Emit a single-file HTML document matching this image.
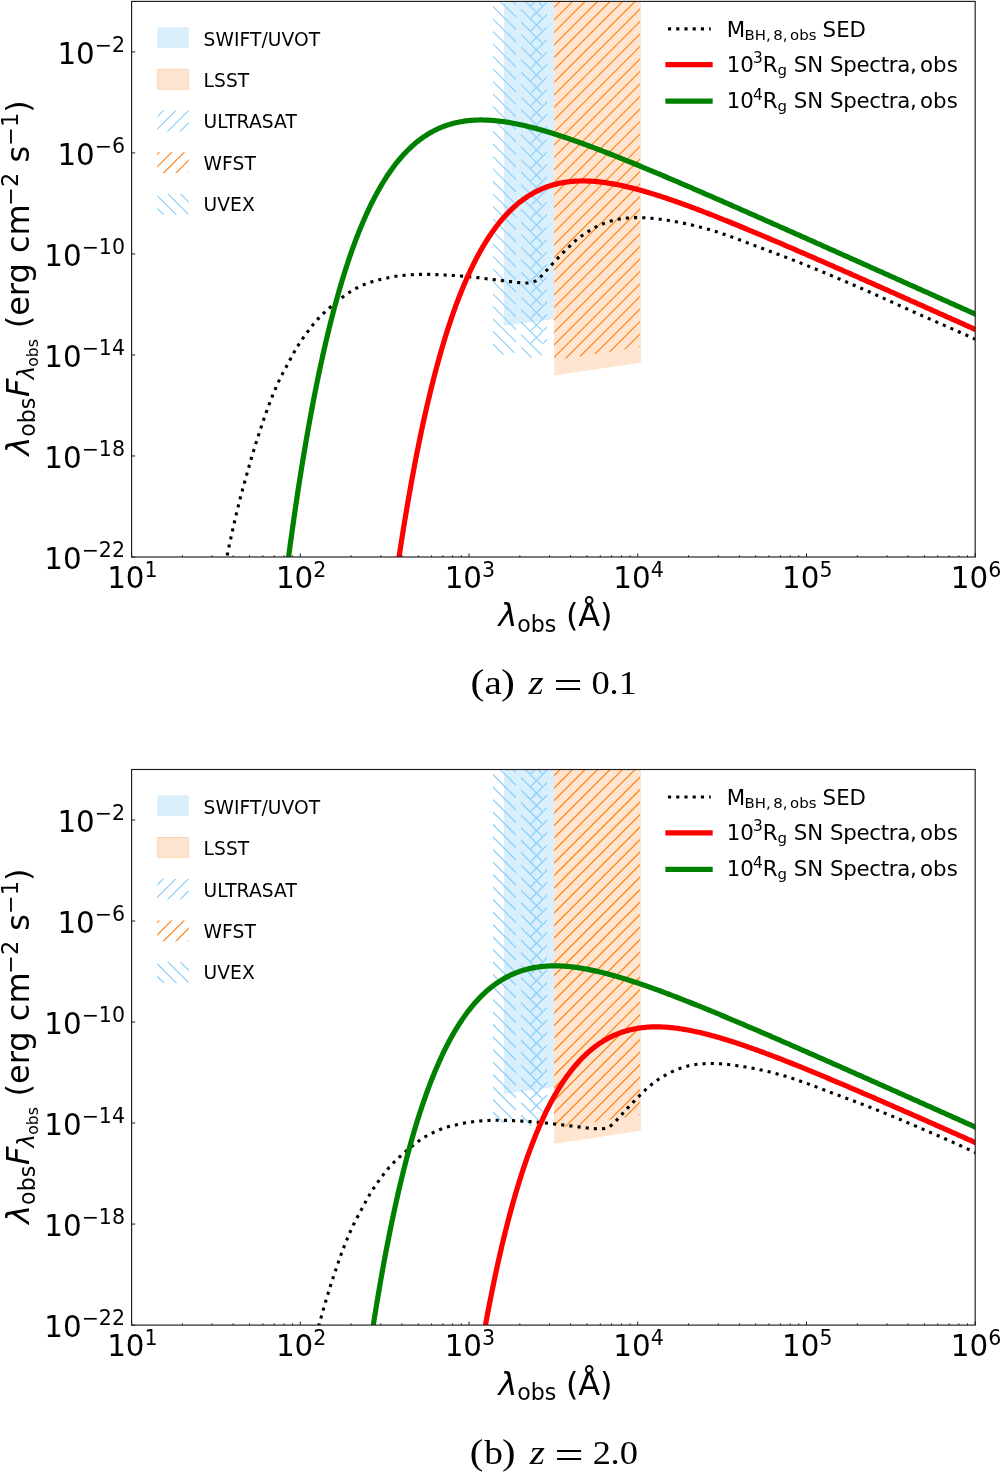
<!DOCTYPE html>
<html><head><meta charset="utf-8"><title>SED figure</title>
<style>
html,body{margin:0;padding:0;background:#fff}
svg{display:block}
text{font-family:"DejaVu Sans","Liberation Sans",sans-serif;fill:#000;white-space:pre}
.cap{font-family:"Liberation Serif","DejaVu Serif",serif}
</style></head><body>
<svg width="1000" height="1472" viewBox="0 0 1000 1472">
<rect width="1000" height="1472" fill="#fff"/>
<g>
<polygon points="504,1.4 554.1,1.4 554.1,319 504,326" fill="#d9effc"/>
<polygon points="554.1,1.4 641,1.4 641,362.7 554.1,375.6" fill="#ffe5cf"/>
<clipPath id="cu1"><polygon points="530.4,1.4 547,1.4 547,343 530.4,345.7"/></clipPath>
<path clip-path="url(#cu1)" d="M529.4 7.1L548 -11.5M529.4 19.6L548 1M529.4 32.1L548 13.5M529.4 44.6L548 26M529.4 57.1L548 38.5M529.4 69.6L548 51M529.4 82.1L548 63.5M529.4 94.6L548 76M529.4 107.1L548 88.5M529.4 119.6L548 101M529.4 132.1L548 113.5M529.4 144.6L548 126M529.4 157.1L548 138.5M529.4 169.6L548 151M529.4 182.1L548 163.5M529.4 194.6L548 176M529.4 207.1L548 188.5M529.4 219.6L548 201M529.4 232.1L548 213.5M529.4 244.6L548 226M529.4 257.1L548 238.5M529.4 269.6L548 251M529.4 282.1L548 263.5M529.4 294.6L548 276M529.4 307.1L548 288.5M529.4 319.6L548 301M529.4 332.1L548 313.5M529.4 344.6L548 326M529.4 357.1L548 338.5" stroke="#87cefa" stroke-width="1.12" fill="none"/>
<clipPath id="cw1"><polygon points="554.1,1.4 639.9,1.4 639.9,347 554.1,360.3"/></clipPath>
<path clip-path="url(#cw1)" d="M553.1 8.4L640.9 -79.4M553.1 20.9L640.9 -66.9M553.1 33.4L640.9 -54.4M553.1 45.9L640.9 -41.9M553.1 58.4L640.9 -29.4M553.1 70.9L640.9 -16.9M553.1 83.4L640.9 -4.4M553.1 95.9L640.9 8.1M553.1 108.4L640.9 20.6M553.1 120.9L640.9 33.1M553.1 133.4L640.9 45.6M553.1 145.9L640.9 58.1M553.1 158.4L640.9 70.6M553.1 170.9L640.9 83.1M553.1 183.4L640.9 95.6M553.1 195.9L640.9 108.1M553.1 208.4L640.9 120.6M553.1 220.9L640.9 133.1M553.1 233.4L640.9 145.6M553.1 245.9L640.9 158.1M553.1 258.4L640.9 170.6M553.1 270.9L640.9 183.1M553.1 283.4L640.9 195.6M553.1 295.9L640.9 208.1M553.1 308.4L640.9 220.6M553.1 320.9L640.9 233.1M553.1 333.4L640.9 245.6M553.1 345.9L640.9 258.1M553.1 358.4L640.9 270.6M553.1 370.9L640.9 283.1M553.1 383.4L640.9 295.6M553.1 395.9L640.9 308.1M553.1 408.4L640.9 320.6M553.1 420.9L640.9 333.1M553.1 433.4L640.9 345.6M553.1 445.9L640.9 358.1" stroke="#ff7f0e" stroke-width="1.12" fill="none"/>
<clipPath id="cv1"><polygon points="493,1.4 516,1.4 516,352.6 493,356.4"/></clipPath>
<path clip-path="url(#cv1)" d="M492 343L517 368M492 330.5L517 355.5M492 318L517 343M492 305.5L517 330.5M492 293L517 318M492 280.5L517 305.5M492 268L517 293M492 255.5L517 280.5M492 243L517 268M492 230.5L517 255.5M492 218L517 243M492 205.5L517 230.5M492 193L517 218M492 180.5L517 205.5M492 168L517 193M492 155.5L517 180.5M492 143L517 168M492 130.5L517 155.5M492 118L517 143M492 105.5L517 130.5M492 93L517 118M492 80.5L517 105.5M492 68L517 93M492 55.5L517 80.5M492 43L517 68M492 30.5L517 55.5M492 18L517 43M492 5.5L517 30.5M492 -7L517 18M492 -19.5L517 5.5" stroke="#87cefa" stroke-width="1.12" fill="none"/>
<clipPath id="cx1"><polygon points="521,1.4 542,1.4 542,355.4 521,359.4"/></clipPath>
<path clip-path="url(#cx1)" d="M520 346L543 369M520 333.5L543 356.5M520 321L543 344M520 308.5L543 331.5M520 296L543 319M520 283.5L543 306.5M520 271L543 294M520 258.5L543 281.5M520 246L543 269M520 233.5L543 256.5M520 221L543 244M520 208.5L543 231.5M520 196L543 219M520 183.5L543 206.5M520 171L543 194M520 158.5L543 181.5M520 146L543 169M520 133.5L543 156.5M520 121L543 144M520 108.5L543 131.5M520 96L543 119M520 83.5L543 106.5M520 71L543 94M520 58.5L543 81.5M520 46L543 69M520 33.5L543 56.5M520 21L543 44M520 8.5L543 31.5M520 -4L543 19M520 -16.5L543 6.5" stroke="#87cefa" stroke-width="1.12" fill="none"/>
<clipPath id="ax1"><rect x="131.6" y="1.4" width="843.6" height="555.6"/></clipPath>
<g clip-path="url(#ax1)" fill="none">
<path d="M216.2 610.6 L216.54 608.89 L216.88 607.18 L217.23 605.47 L217.57 603.76 L217.91 602.05 L218.25 600.34 L218.59 598.63 L218.94 596.92 L219.28 595.21 L219.62 593.5 L219.96 591.79 L220.3 590.08 L220.65 588.37 L220.99 586.66 L221.33 584.95 L221.67 583.24 L222.01 581.53 L222.36 579.82 L222.7 578.11 L223.04 576.4 L223.38 574.69 L223.72 572.98 L224.07 571.27 L224.41 569.56 L224.75 567.85 L225.09 566.14 L225.43 564.43 L225.78 562.72 L226.12 561.01 L226.46 559.3 L226.8 557.59 L227.14 555.88 L227.48 554.17 L227.82 552.46 L228.16 550.75 L228.5 549.04 L228.86 547.33 L229.21 545.62 L229.57 543.92 L229.94 542.21 L230.31 540.51 L230.68 538.8 L231.05 537.1 L231.43 535.4 L231.8 533.7 L232.19 531.99 L232.57 530.29 L232.95 528.59 L233.34 526.89 L233.73 525.19 L234.12 523.49 L234.51 521.79 L234.9 520.09 L235.3 518.39 L235.7 516.7 L236.1 515 L236.5 513.3 L236.91 511.61 L237.32 509.91 L237.73 508.22 L238.14 506.52 L238.56 504.83 L238.99 503.14 L239.41 501.45 L239.85 499.76 L240.28 498.07 L240.73 496.38 L241.17 494.7 L241.62 493.01 L242.08 491.33 L242.54 489.65 L243 487.97 L243.46 486.28 L243.93 484.6 L244.39 482.92 L244.86 481.24 L245.33 479.56 L245.8 477.88 L246.27 476.2 L246.74 474.52 L247.2 472.84 L247.68 471.17 L248.15 469.49 L248.62 467.81 L249.1 466.13 L249.58 464.45 L250.06 462.78 L250.54 461.1 L251.03 459.43 L251.52 457.75 L252.01 456.08 L252.51 454.41 L253.01 452.74 L253.51 451.07 L254.02 449.4 L254.54 447.74 L255.05 446.07 L255.57 444.41 L256.1 442.74 L256.62 441.08 L257.15 439.42 L257.69 437.76 L258.22 436.1 L258.76 434.44 L259.3 432.78 L259.85 431.12 L260.39 429.47 L260.94 427.81 L261.5 426.16 L262.05 424.51 L262.61 422.85 L263.17 421.2 L263.73 419.55 L264.29 417.9 L264.86 416.25 L265.44 414.6 L266.02 412.96 L266.61 411.32 L267.2 409.68 L267.8 408.04 L268.41 406.41 L269.02 404.78 L269.64 403.15 L270.27 401.52 L270.9 399.89 L271.53 398.26 L272.17 396.64 L272.82 395.02 L273.48 393.4 L274.14 391.78 L274.82 390.17 L275.5 388.57 L276.19 386.97 L276.89 385.38 L277.6 383.79 L278.33 382.21 L279.07 380.63 L279.83 379.07 L280.6 377.51 L281.39 375.95 L282.19 374.4 L283 372.86 L283.82 371.31 L284.64 369.77 L285.47 368.24 L286.31 366.7 L287.14 365.17 L287.97 363.63 L288.81 362.1 L289.63 360.57 L290.46 359.03 L291.28 357.49 L292.1 355.95 L292.93 354.41 L293.77 352.88 L294.62 351.35 L295.48 349.84 L296.35 348.33 L297.25 346.84 L298.17 345.37 L299.11 343.9 L300.06 342.44 L301.03 340.99 L302.02 339.55 L303.02 338.11 L304.03 336.69 L305.05 335.27 L306.07 333.86 L307.11 332.46 L308.14 331.06 L309.19 329.66 L310.24 328.26 L311.3 326.87 L312.38 325.49 L313.47 324.13 L314.58 322.78 L315.71 321.46 L316.86 320.16 L318.03 318.88 L319.23 317.62 L320.45 316.37 L321.69 315.15 L322.95 313.93 L324.22 312.73 L325.5 311.54 L326.79 310.36 L328.08 309.19 L329.38 308.02 L330.68 306.86 L331.98 305.7 L333.3 304.56 L334.63 303.42 L335.96 302.29 L337.31 301.18 L338.67 300.09 L340.05 299.02 L341.43 297.97 L342.84 296.94 L344.25 295.91 L345.67 294.89 L347.11 293.88 L348.56 292.9 L350.02 291.94 L351.5 291.01 L352.99 290.12 L354.5 289.27 L356.03 288.46 L357.57 287.66 L359.14 286.88 L360.72 286.12 L362.31 285.38 L363.92 284.67 L365.54 284 L367.16 283.35 L368.8 282.75 L370.44 282.18 L372.09 281.66 L373.75 281.17 L375.43 280.71 L377.11 280.27 L378.81 279.85 L380.52 279.45 L382.22 279.06 L383.93 278.67 L385.64 278.3 L387.34 277.92 L389.05 277.55 L390.75 277.19 L392.46 276.84 L394.18 276.53 L395.9 276.26 L397.63 276.02 L399.36 275.8 L401.09 275.59 L402.83 275.42 L404.56 275.26 L406.3 275.12 L408.04 274.99 L409.78 274.87 L411.52 274.77 L413.26 274.67 L415 274.56 L416.75 274.48 L418.49 274.42 L420.23 274.4 L421.97 274.4 L423.72 274.4 L425.46 274.4 L427.21 274.4 L428.95 274.4 L430.69 274.43 L432.44 274.48 L434.18 274.54 L435.92 274.6 L437.67 274.66 L439.41 274.74 L441.15 274.83 L442.89 274.92 L444.63 275.01 L446.38 275.09 L448.12 275.18 L449.86 275.26 L451.6 275.35 L453.34 275.46 L455.08 275.57 L456.82 275.7 L458.56 275.83 L460.3 275.98 L462.03 276.12 L463.77 276.29 L465.51 276.46 L467.24 276.63 L468.98 276.8 L470.71 276.96 L472.45 277.12 L474.19 277.28 L475.92 277.45 L477.66 277.63 L479.39 277.83 L481.12 278.04 L482.85 278.26 L484.58 278.48 L486.31 278.69 L488.04 278.89 L489.78 279.1 L491.51 279.3 L493.24 279.51 L494.97 279.72 L496.7 279.94 L498.43 280.15 L500.16 280.37 L501.89 280.59 L503.62 280.8 L505.35 281 L507.09 281.21 L508.82 281.41 L510.55 281.62 L512.28 281.85 L514.01 282.09 L515.74 282.31 L517.47 282.51 L519.21 282.64 L520.95 282.76 L522.7 282.87 L524.44 282.95 L526.18 282.99 L527.92 282.97 L529.68 282.75 L531.43 282.37 L533.13 281.89 L534.71 281.36 L536.19 280.61 L537.59 279.56 L538.94 278.36 L540.25 277.1 L541.52 275.91 L542.75 274.67 L543.93 273.39 L545.09 272.08 L546.26 270.77 L547.43 269.49 L548.6 268.19 L549.77 266.9 L550.94 265.6 L552.11 264.31 L553.29 263.03 L554.48 261.75 L555.67 260.48 L556.86 259.2 L558.06 257.94 L559.26 256.67 L560.47 255.42 L561.68 254.16 L562.9 252.91 L564.12 251.67 L565.34 250.43 L566.57 249.19 L567.81 247.96 L569.05 246.74 L570.31 245.52 L571.56 244.31 L572.82 243.1 L574.1 241.92 L575.41 240.76 L576.74 239.64 L578.1 238.54 L579.47 237.47 L580.87 236.42 L582.28 235.4 L583.71 234.41 L585.16 233.43 L586.62 232.48 L588.1 231.55 L589.59 230.64 L591.08 229.74 L592.59 228.85 L594.11 228 L595.64 227.18 L597.2 226.41 L598.78 225.66 L600.37 224.94 L601.98 224.26 L603.59 223.6 L605.22 222.97 L606.85 222.35 L608.5 221.76 L610.16 221.22 L611.83 220.74 L613.51 220.29 L615.21 219.87 L616.91 219.49 L618.63 219.16 L620.35 218.89 L622.07 218.63 L623.8 218.41 L625.54 218.21 L627.28 218.05 L629.01 217.93 L630.75 217.81 L632.5 217.71 L634.24 217.64 L635.98 217.6 L637.73 217.61 L639.47 217.64 L641.21 217.68 L642.96 217.74 L644.7 217.8 L646.44 217.89 L648.18 218 L649.92 218.13 L651.66 218.28 L653.39 218.44 L655.13 218.62 L656.86 218.84 L658.59 219.07 L660.32 219.31 L662.04 219.54 L663.77 219.79 L665.49 220.05 L667.22 220.32 L668.94 220.59 L670.66 220.87 L672.38 221.17 L674.1 221.47 L675.81 221.78 L677.53 222.1 L679.24 222.41 L680.96 222.73 L682.67 223.06 L684.38 223.39 L686.09 223.74 L687.79 224.11 L689.5 224.49 L691.2 224.88 L692.89 225.28 L694.59 225.68 L696.29 226.1 L697.98 226.52 L699.67 226.95 L701.36 227.39 L703.04 227.83 L704.72 228.29 L706.41 228.75 L708.08 229.22 L709.76 229.7 L711.44 230.19 L713.11 230.68 L714.78 231.18 L716.45 231.7 L718.11 232.23 L719.76 232.78 L721.41 233.35 L723.06 233.92 L724.7 234.5 L726.35 235.07 L728 235.64 L729.65 236.21 L731.29 236.79 L732.93 237.38 L734.57 237.97 L736.21 238.57 L737.85 239.17 L739.48 239.78 L741.11 240.39 L742.74 241.02 L744.37 241.65 L746 242.28 L747.62 242.9 L749.25 243.52 L750.88 244.14 L752.52 244.75 L754.15 245.36 L755.79 245.97 L757.42 246.58 L759.05 247.2 L760.68 247.81 L762.31 248.42 L763.95 249.04 L765.58 249.65 L767.21 250.26 L768.85 250.87 L770.48 251.48 L772.11 252.1 L773.75 252.71 L775.38 253.32 L777.01 253.93 L778.65 254.55 L780.28 255.16 L781.91 255.78 L783.54 256.4 L785.17 257.02 L786.8 257.64 L788.43 258.26 L790.06 258.89 L791.68 259.51 L793.31 260.14 L794.94 260.77 L796.56 261.41 L798.18 262.04 L799.8 262.68 L801.43 263.32 L803.05 263.97 L804.66 264.61 L806.28 265.26 L807.9 265.91 L809.52 266.57 L811.13 267.22 L812.75 267.88 L814.36 268.54 L815.98 269.2 L817.59 269.86 L819.2 270.52 L820.81 271.19 L822.43 271.85 L824.04 272.52 L825.65 273.19 L827.26 273.86 L828.87 274.54 L830.47 275.21 L832.08 275.89 L833.69 276.56 L835.3 277.24 L836.9 277.92 L838.51 278.6 L840.11 279.28 L841.72 279.97 L843.32 280.65 L844.93 281.34 L846.53 282.02 L848.13 282.71 L849.74 283.4 L851.34 284.09 L852.94 284.78 L854.54 285.47 L856.14 286.16 L857.74 286.85 L859.34 287.54 L860.94 288.24 L862.54 288.93 L864.14 289.63 L865.74 290.32 L867.34 291.02 L868.93 291.72 L870.53 292.43 L872.12 293.13 L873.72 293.84 L875.31 294.55 L876.9 295.26 L878.49 295.98 L880.08 296.69 L881.67 297.41 L883.26 298.13 L884.85 298.85 L886.44 299.57 L888.03 300.29 L889.61 301.01 L891.2 301.73 L892.79 302.45 L894.38 303.18 L895.96 303.9 L897.55 304.62 L899.14 305.34 L900.73 306.07 L902.31 306.79 L903.9 307.51 L905.49 308.23 L907.08 308.95 L908.67 309.66 L910.26 310.38 L911.85 311.09 L913.44 311.81 L915.04 312.52 L916.63 313.22 L918.22 313.93 L919.82 314.64 L921.41 315.35 L923 316.05 L924.6 316.76 L926.19 317.46 L927.79 318.17 L929.39 318.87 L930.98 319.58 L932.58 320.28 L934.17 320.98 L935.77 321.68 L937.37 322.38 L938.96 323.09 L940.56 323.79 L942.16 324.49 L943.75 325.19 L945.35 325.89 L946.95 326.59 L948.54 327.29 L950.14 327.99 L951.74 328.7 L953.33 329.4 L954.93 330.1 L956.52 330.8 L958.12 331.5 L959.72 332.21 L961.31 332.91 L962.91 333.61 L964.5 334.32 L966.1 335.02 L967.69 335.73 L969.29 336.43 L970.88 337.14 L972.48 337.85 L974.07 338.56 L975.66 339.26 L977.26 339.97 L978.85 340.68 L980.44 341.39 L982.04 342.1 L983.63 342.81 L985.22 343.52 L986.81 344.23 L988.41 344.94 L990 345.65" stroke="#000" stroke-width="3.1" stroke-dasharray="3.1 5.12" stroke-dashoffset="1.4"/>
<path d="M391.23 611.77 L392.45 602.79 L393.67 593.98 L394.89 585.32 L396.11 576.81 L397.33 568.46 L398.55 560.26 L399.77 552.2 L400.98 544.29 L402.2 536.53 L403.42 528.9 L404.64 521.41 L405.86 514.06 L407.08 506.84 L408.3 499.75 L409.52 492.79 L410.74 485.95 L411.96 479.24 L413.17 472.66 L414.39 466.19 L415.61 459.85 L416.83 453.62 L418.05 447.5 L419.27 441.5 L420.49 435.61 L421.71 429.83 L422.93 424.15 L424.14 418.59 L425.36 413.12 L426.58 407.76 L427.8 402.5 L429.02 397.33 L430.24 392.27 L431.46 387.3 L432.68 382.42 L433.9 377.64 L435.11 372.94 L436.33 368.34 L437.55 363.83 L438.77 359.4 L439.99 355.05 L441.21 350.79 L442.43 346.62 L443.65 342.52 L444.87 338.5 L446.09 334.56 L447.3 330.7 L448.52 326.92 L449.74 323.2 L450.96 319.57 L452.18 316 L453.4 312.5 L454.62 309.08 L455.84 305.72 L457.06 302.43 L458.27 299.21 L459.49 296.05 L460.71 292.96 L461.93 289.93 L463.15 286.96 L464.37 284.05 L465.59 281.2 L466.81 278.41 L468.03 275.68 L469.25 273.01 L470.46 270.39 L471.68 267.83 L472.9 265.32 L474.12 262.87 L475.34 260.46 L476.56 258.11 L477.78 255.81 L479 253.56 L480.22 251.36 L481.43 249.21 L482.65 247.11 L483.87 245.05 L485.09 243.04 L486.31 241.07 L487.53 239.15 L488.75 237.27 L489.97 235.44 L491.19 233.64 L492.4 231.89 L493.62 230.18 L494.84 228.51 L496.06 226.88 L497.28 225.29 L498.5 223.74 L499.72 222.22 L500.94 220.74 L502.16 219.3 L503.38 217.89 L504.59 216.52 L505.81 215.19 L507.03 213.88 L508.25 212.61 L509.47 211.38 L510.69 210.17 L511.91 209 L513.13 207.86 L514.35 206.75 L515.56 205.67 L516.78 204.63 L518 203.61 L519.22 202.61 L520.44 201.65 L521.66 200.72 L522.88 199.81 L524.1 198.93 L525.32 198.08 L526.54 197.25 L527.75 196.45 L528.97 195.67 L530.19 194.92 L531.41 194.19 L532.63 193.49 L533.85 192.81 L535.07 192.15 L536.29 191.51 L537.51 190.9 L538.72 190.31 L539.94 189.74 L541.16 189.2 L542.38 188.67 L543.6 188.17 L544.82 187.68 L546.04 187.22 L547.26 186.77 L548.48 186.34 L549.69 185.94 L550.91 185.55 L552.13 185.18 L553.35 184.82 L554.57 184.49 L555.79 184.17 L557.01 183.87 L558.23 183.58 L559.45 183.31 L560.67 183.06 L561.88 182.83 L563.1 182.61 L564.32 182.4 L565.54 182.21 L566.76 182.03 L567.98 181.87 L569.2 181.72 L570.42 181.59 L571.64 181.47 L572.85 181.36 L574.07 181.27 L575.29 181.19 L576.51 181.12 L577.73 181.06 L578.95 181.02 L580.17 180.99 L581.39 180.97 L582.61 180.96 L583.83 180.96 L585.04 180.98 L586.26 181 L587.48 181.04 L588.7 181.08 L589.92 181.14 L591.14 181.2 L592.36 181.28 L593.58 181.36 L594.8 181.46 L596.01 181.56 L597.23 181.67 L598.45 181.79 L599.67 181.92 L600.89 182.06 L602.11 182.21 L603.33 182.37 L604.55 182.53 L605.77 182.7 L606.98 182.88 L608.2 183.06 L609.42 183.26 L610.64 183.46 L611.86 183.66 L613.08 183.88 L614.3 184.1 L615.52 184.33 L616.74 184.56 L617.96 184.8 L619.17 185.05 L620.39 185.3 L621.61 185.56 L622.83 185.82 L624.05 186.09 L625.27 186.37 L626.49 186.65 L627.71 186.94 L628.93 187.23 L630.14 187.53 L631.36 187.83 L632.58 188.13 L633.8 188.45 L635.02 188.76 L636.24 189.08 L637.46 189.41 L638.68 189.74 L639.9 190.07 L641.12 190.41 L642.33 190.75 L643.55 191.1 L644.77 191.45 L645.99 191.8 L647.21 192.16 L648.43 192.52 L649.65 192.89 L650.87 193.26 L652.09 193.63 L653.3 194 L654.52 194.38 L655.74 194.77 L656.96 195.15 L658.18 195.54 L659.4 195.93 L660.62 196.33 L661.84 196.73 L663.06 197.13 L664.27 197.53 L665.49 197.94 L666.71 198.34 L667.93 198.76 L669.15 199.17 L670.37 199.59 L671.59 200.01 L672.81 200.43 L674.03 200.85 L675.25 201.28 L676.46 201.71 L677.68 202.14 L678.9 202.57 L680.12 203.01 L681.34 203.44 L682.56 203.88 L683.78 204.32 L685 204.77 L686.22 205.21 L687.43 205.66 L688.65 206.11 L689.87 206.56 L691.09 207.01 L692.31 207.47 L693.53 207.92 L694.75 208.38 L695.97 208.84 L697.19 209.3 L698.41 209.76 L699.62 210.23 L700.84 210.69 L702.06 211.16 L703.28 211.63 L704.5 212.1 L705.72 212.57 L706.94 213.04 L708.16 213.52 L709.38 213.99 L710.59 214.47 L711.81 214.95 L713.03 215.43 L714.25 215.91 L715.47 216.39 L716.69 216.88 L717.91 217.36 L719.13 217.84 L720.35 218.33 L721.56 218.82 L722.78 219.31 L724 219.8 L725.22 220.29 L726.44 220.78 L727.66 221.27 L728.88 221.77 L730.1 222.26 L731.32 222.76 L732.54 223.25 L733.75 223.75 L734.97 224.25 L736.19 224.75 L737.41 225.25 L738.63 225.75 L739.85 226.25 L741.07 226.75 L742.29 227.26 L743.51 227.76 L744.72 228.27 L745.94 228.77 L747.16 229.28 L748.38 229.79 L749.6 230.29 L750.82 230.8 L752.04 231.31 L753.26 231.82 L754.48 232.33 L755.7 232.84 L756.91 233.35 L758.13 233.87 L759.35 234.38 L760.57 234.89 L761.79 235.41 L763.01 235.92 L764.23 236.44 L765.45 236.95 L766.67 237.47 L767.88 237.99 L769.1 238.5 L770.32 239.02 L771.54 239.54 L772.76 240.06 L773.98 240.58 L775.2 241.1 L776.42 241.62 L777.64 242.14 L778.85 242.66 L780.07 243.18 L781.29 243.71 L782.51 244.23 L783.73 244.75 L784.95 245.27 L786.17 245.8 L787.39 246.32 L788.61 246.85 L789.83 247.37 L791.04 247.9 L792.26 248.42 L793.48 248.95 L794.7 249.48 L795.92 250 L797.14 250.53 L798.36 251.06 L799.58 251.59 L800.8 252.11 L802.01 252.64 L803.23 253.17 L804.45 253.7 L805.67 254.23 L806.89 254.76 L808.11 255.29 L809.33 255.82 L810.55 256.35 L811.77 256.88 L812.99 257.41 L814.2 257.95 L815.42 258.48 L816.64 259.01 L817.86 259.54 L819.08 260.08 L820.3 260.61 L821.52 261.14 L822.74 261.67 L823.96 262.21 L825.17 262.74 L826.39 263.28 L827.61 263.81 L828.83 264.34 L830.05 264.88 L831.27 265.41 L832.49 265.95 L833.71 266.48 L834.93 267.02 L836.14 267.56 L837.36 268.09 L838.58 268.63 L839.8 269.16 L841.02 269.7 L842.24 270.24 L843.46 270.77 L844.68 271.31 L845.9 271.85 L847.12 272.39 L848.33 272.92 L849.55 273.46 L850.77 274 L851.99 274.54 L853.21 275.08 L854.43 275.61 L855.65 276.15 L856.87 276.69 L858.09 277.23 L859.3 277.77 L860.52 278.31 L861.74 278.85 L862.96 279.39 L864.18 279.93 L865.4 280.47 L866.62 281.01 L867.84 281.55 L869.06 282.09 L870.27 282.63 L871.49 283.17 L872.71 283.71 L873.93 284.25 L875.15 284.79 L876.37 285.33 L877.59 285.87 L878.81 286.41 L880.03 286.95 L881.25 287.49 L882.46 288.03 L883.68 288.57 L884.9 289.12 L886.12 289.66 L887.34 290.2 L888.56 290.74 L889.78 291.28 L891 291.82 L892.22 292.37 L893.43 292.91 L894.65 293.45 L895.87 293.99 L897.09 294.54 L898.31 295.08 L899.53 295.62 L900.75 296.16 L901.97 296.71 L903.19 297.25 L904.41 297.79 L905.62 298.33 L906.84 298.88 L908.06 299.42 L909.28 299.96 L910.5 300.51 L911.72 301.05 L912.94 301.59 L914.16 302.14 L915.38 302.68 L916.59 303.22 L917.81 303.77 L919.03 304.31 L920.25 304.85 L921.47 305.4 L922.69 305.94 L923.91 306.49 L925.13 307.03 L926.35 307.57 L927.56 308.12 L928.78 308.66 L930 309.21 L931.22 309.75 L932.44 310.29 L933.66 310.84 L934.88 311.38 L936.1 311.93 L937.32 312.47 L938.54 313.02 L939.75 313.56 L940.97 314.11 L942.19 314.65 L943.41 315.2 L944.63 315.74 L945.85 316.29 L947.07 316.83 L948.29 317.38 L949.51 317.92 L950.72 318.46 L951.94 319.01 L953.16 319.55 L954.38 320.1 L955.6 320.65 L956.82 321.19 L958.04 321.74 L959.26 322.28 L960.48 322.83 L961.7 323.37 L962.91 323.92 L964.13 324.46 L965.35 325.01 L966.57 325.55 L967.79 326.1 L969.01 326.64 L970.23 327.19 L971.45 327.73 L972.67 328.28 L973.88 328.83 L975.1 329.37 L976.32 329.92 L977.54 330.46 L978.76 331.01 L979.98 331.55 L981.2 332.1 L982.42 332.65 L983.64 333.19" stroke="#f00" stroke-width="5.2" stroke-linejoin="round"/>
<path d="M281.53 612.88 L282.75 602.8 L283.97 592.9 L285.19 583.17 L286.4 573.62 L287.62 564.23 L288.84 555.02 L290.06 545.97 L291.28 537.08 L292.5 528.34 L293.72 519.77 L294.94 511.34 L296.16 503.07 L297.38 494.95 L298.59 486.97 L299.81 479.14 L301.03 471.45 L302.25 463.89 L303.47 456.48 L304.69 449.19 L305.91 442.04 L307.13 435.02 L308.35 428.13 L309.56 421.37 L310.78 414.72 L312 408.2 L313.22 401.8 L314.44 395.52 L315.66 389.35 L316.88 383.29 L318.1 377.35 L319.32 371.52 L320.54 365.8 L321.75 360.18 L322.97 354.67 L324.19 349.26 L325.41 343.95 L326.63 338.74 L327.85 333.63 L329.07 328.61 L330.29 323.69 L331.51 318.87 L332.72 314.13 L333.94 309.49 L335.16 304.93 L336.38 300.46 L337.6 296.08 L338.82 291.78 L340.04 287.56 L341.26 283.43 L342.48 279.37 L343.69 275.4 L344.91 271.5 L346.13 267.68 L347.35 263.93 L348.57 260.26 L349.79 256.66 L351.01 253.13 L352.23 249.68 L353.45 246.29 L354.67 242.97 L355.88 239.71 L357.1 236.52 L358.32 233.4 L359.54 230.34 L360.76 227.34 L361.98 224.41 L363.2 221.53 L364.42 218.72 L365.64 215.96 L366.85 213.26 L368.07 210.61 L369.29 208.03 L370.51 205.49 L371.73 203.01 L372.95 200.59 L374.17 198.21 L375.39 195.89 L376.61 193.62 L377.82 191.39 L379.04 189.22 L380.26 187.09 L381.48 185.01 L382.7 182.98 L383.92 180.99 L385.14 179.05 L386.36 177.15 L387.58 175.3 L388.8 173.48 L390.01 171.71 L391.23 169.98 L392.45 168.29 L393.67 166.65 L394.89 165.04 L396.11 163.47 L397.33 161.93 L398.55 160.44 L399.77 158.98 L400.98 157.55 L402.2 156.17 L403.42 154.81 L404.64 153.5 L405.86 152.21 L407.08 150.96 L408.3 149.74 L409.52 148.56 L410.74 147.4 L411.96 146.28 L413.17 145.18 L414.39 144.12 L415.61 143.09 L416.83 142.08 L418.05 141.11 L419.27 140.16 L420.49 139.24 L421.71 138.35 L422.93 137.48 L424.14 136.64 L425.36 135.83 L426.58 135.04 L427.8 134.27 L429.02 133.54 L430.24 132.82 L431.46 132.13 L432.68 131.46 L433.9 130.82 L435.11 130.19 L436.33 129.6 L437.55 129.02 L438.77 128.46 L439.99 127.92 L441.21 127.41 L442.43 126.92 L443.65 126.44 L444.87 125.99 L446.09 125.55 L447.3 125.13 L448.52 124.74 L449.74 124.36 L450.96 124 L452.18 123.65 L453.4 123.33 L454.62 123.02 L455.84 122.72 L457.06 122.45 L458.27 122.19 L459.49 121.94 L460.71 121.72 L461.93 121.5 L463.15 121.31 L464.37 121.12 L465.59 120.95 L466.81 120.8 L468.03 120.66 L469.25 120.53 L470.46 120.42 L471.68 120.32 L472.9 120.23 L474.12 120.16 L475.34 120.1 L476.56 120.05 L477.78 120.01 L479 119.99 L480.22 119.97 L481.43 119.97 L482.65 119.98 L483.87 120 L485.09 120.03 L486.31 120.07 L487.53 120.12 L488.75 120.18 L489.97 120.25 L491.19 120.33 L492.4 120.42 L493.62 120.52 L494.84 120.63 L496.06 120.75 L497.28 120.87 L498.5 121.01 L499.72 121.15 L500.94 121.3 L502.16 121.46 L503.38 121.63 L504.59 121.8 L505.81 121.99 L507.03 122.18 L508.25 122.37 L509.47 122.58 L510.69 122.79 L511.91 123.01 L513.13 123.23 L514.35 123.46 L515.56 123.7 L516.78 123.94 L518 124.19 L519.22 124.45 L520.44 124.71 L521.66 124.98 L522.88 125.25 L524.1 125.53 L525.32 125.81 L526.54 126.1 L527.75 126.4 L528.97 126.7 L530.19 127 L531.41 127.31 L532.63 127.62 L533.85 127.94 L535.07 128.27 L536.29 128.59 L537.51 128.93 L538.72 129.26 L539.94 129.6 L541.16 129.95 L542.38 130.3 L543.6 130.65 L544.82 131 L546.04 131.36 L547.26 131.73 L548.48 132.09 L549.69 132.47 L550.91 132.84 L552.13 133.22 L553.35 133.6 L554.57 133.98 L555.79 134.37 L557.01 134.76 L558.23 135.15 L559.45 135.55 L560.67 135.95 L561.88 136.35 L563.1 136.76 L564.32 137.16 L565.54 137.57 L566.76 137.99 L567.98 138.4 L569.2 138.82 L570.42 139.24 L571.64 139.66 L572.85 140.09 L574.07 140.52 L575.29 140.95 L576.51 141.38 L577.73 141.81 L578.95 142.25 L580.17 142.69 L581.39 143.13 L582.61 143.57 L583.83 144.01 L585.04 144.46 L586.26 144.91 L587.48 145.36 L588.7 145.81 L589.92 146.26 L591.14 146.72 L592.36 147.18 L593.58 147.64 L594.8 148.1 L596.01 148.56 L597.23 149.02 L598.45 149.49 L599.67 149.95 L600.89 150.42 L602.11 150.89 L603.33 151.36 L604.55 151.83 L605.77 152.31 L606.98 152.78 L608.2 153.26 L609.42 153.74 L610.64 154.22 L611.86 154.7 L613.08 155.18 L614.3 155.66 L615.52 156.14 L616.74 156.63 L617.96 157.11 L619.17 157.6 L620.39 158.09 L621.61 158.58 L622.83 159.07 L624.05 159.56 L625.27 160.05 L626.49 160.55 L627.71 161.04 L628.93 161.54 L630.14 162.03 L631.36 162.53 L632.58 163.03 L633.8 163.53 L635.02 164.03 L636.24 164.53 L637.46 165.03 L638.68 165.53 L639.9 166.03 L641.12 166.54 L642.33 167.04 L643.55 167.55 L644.77 168.05 L645.99 168.56 L647.21 169.07 L648.43 169.57 L649.65 170.08 L650.87 170.59 L652.09 171.1 L653.3 171.61 L654.52 172.13 L655.74 172.64 L656.96 173.15 L658.18 173.66 L659.4 174.18 L660.62 174.69 L661.84 175.21 L663.06 175.72 L664.27 176.24 L665.49 176.76 L666.71 177.27 L667.93 177.79 L669.15 178.31 L670.37 178.83 L671.59 179.35 L672.81 179.87 L674.03 180.39 L675.25 180.91 L676.46 181.43 L677.68 181.95 L678.9 182.47 L680.12 182.99 L681.34 183.52 L682.56 184.04 L683.78 184.56 L685 185.09 L686.22 185.61 L687.43 186.14 L688.65 186.66 L689.87 187.19 L691.09 187.71 L692.31 188.24 L693.53 188.77 L694.75 189.3 L695.97 189.82 L697.19 190.35 L698.41 190.88 L699.62 191.41 L700.84 191.94 L702.06 192.47 L703.28 192.99 L704.5 193.52 L705.72 194.05 L706.94 194.58 L708.16 195.12 L709.38 195.65 L710.59 196.18 L711.81 196.71 L713.03 197.24 L714.25 197.77 L715.47 198.3 L716.69 198.84 L717.91 199.37 L719.13 199.9 L720.35 200.44 L721.56 200.97 L722.78 201.5 L724 202.04 L725.22 202.57 L726.44 203.11 L727.66 203.64 L728.88 204.18 L730.1 204.71 L731.32 205.25 L732.54 205.78 L733.75 206.32 L734.97 206.85 L736.19 207.39 L737.41 207.92 L738.63 208.46 L739.85 209 L741.07 209.53 L742.29 210.07 L743.51 210.61 L744.72 211.15 L745.94 211.68 L747.16 212.22 L748.38 212.76 L749.6 213.3 L750.82 213.84 L752.04 214.37 L753.26 214.91 L754.48 215.45 L755.7 215.99 L756.91 216.53 L758.13 217.07 L759.35 217.61 L760.57 218.15 L761.79 218.68 L763.01 219.22 L764.23 219.76 L765.45 220.3 L766.67 220.84 L767.88 221.38 L769.1 221.92 L770.32 222.46 L771.54 223 L772.76 223.55 L773.98 224.09 L775.2 224.63 L776.42 225.17 L777.64 225.71 L778.85 226.25 L780.07 226.79 L781.29 227.33 L782.51 227.87 L783.73 228.42 L784.95 228.96 L786.17 229.5 L787.39 230.04 L788.61 230.58 L789.83 231.12 L791.04 231.67 L792.26 232.21 L793.48 232.75 L794.7 233.29 L795.92 233.84 L797.14 234.38 L798.36 234.92 L799.58 235.46 L800.8 236.01 L802.01 236.55 L803.23 237.09 L804.45 237.63 L805.67 238.18 L806.89 238.72 L808.11 239.26 L809.33 239.81 L810.55 240.35 L811.77 240.89 L812.99 241.44 L814.2 241.98 L815.42 242.52 L816.64 243.07 L817.86 243.61 L819.08 244.16 L820.3 244.7 L821.52 245.24 L822.74 245.79 L823.96 246.33 L825.17 246.87 L826.39 247.42 L827.61 247.96 L828.83 248.51 L830.05 249.05 L831.27 249.6 L832.49 250.14 L833.71 250.68 L834.93 251.23 L836.14 251.77 L837.36 252.32 L838.58 252.86 L839.8 253.41 L841.02 253.95 L842.24 254.5 L843.46 255.04 L844.68 255.59 L845.9 256.13 L847.12 256.68 L848.33 257.22 L849.55 257.77 L850.77 258.31 L851.99 258.86 L853.21 259.4 L854.43 259.95 L855.65 260.49 L856.87 261.04 L858.09 261.58 L859.3 262.13 L860.52 262.67 L861.74 263.22 L862.96 263.76 L864.18 264.31 L865.4 264.85 L866.62 265.4 L867.84 265.95 L869.06 266.49 L870.27 267.04 L871.49 267.58 L872.71 268.13 L873.93 268.67 L875.15 269.22 L876.37 269.76 L877.59 270.31 L878.81 270.86 L880.03 271.4 L881.25 271.95 L882.46 272.49 L883.68 273.04 L884.9 273.59 L886.12 274.13 L887.34 274.68 L888.56 275.22 L889.78 275.77 L891 276.32 L892.22 276.86 L893.43 277.41 L894.65 277.95 L895.87 278.5 L897.09 279.05 L898.31 279.59 L899.53 280.14 L900.75 280.68 L901.97 281.23 L903.19 281.78 L904.41 282.32 L905.62 282.87 L906.84 283.42 L908.06 283.96 L909.28 284.51 L910.5 285.05 L911.72 285.6 L912.94 286.15 L914.16 286.69 L915.38 287.24 L916.59 287.79 L917.81 288.33 L919.03 288.88 L920.25 289.43 L921.47 289.97 L922.69 290.52 L923.91 291.07 L925.13 291.61 L926.35 292.16 L927.56 292.7 L928.78 293.25 L930 293.8 L931.22 294.34 L932.44 294.89 L933.66 295.44 L934.88 295.98 L936.1 296.53 L937.32 297.08 L938.54 297.62 L939.75 298.17 L940.97 298.72 L942.19 299.26 L943.41 299.81 L944.63 300.36 L945.85 300.9 L947.07 301.45 L948.29 302 L949.51 302.54 L950.72 303.09 L951.94 303.64 L953.16 304.19 L954.38 304.73 L955.6 305.28 L956.82 305.83 L958.04 306.37 L959.26 306.92 L960.48 307.47 L961.7 308.01 L962.91 308.56 L964.13 309.11 L965.35 309.65 L966.57 310.2 L967.79 310.75 L969.01 311.29 L970.23 311.84 L971.45 312.39 L972.67 312.93 L973.88 313.48 L975.1 314.03 L976.32 314.58 L977.54 315.12 L978.76 315.67 L979.98 316.22 L981.2 316.76 L982.42 317.31 L983.64 317.86" stroke="#008000" stroke-width="5.2" stroke-linejoin="round"/>
</g>
<path d="M131.6 557v-3.6M300.32 557v-3.6M469.04 557v-3.6M637.76 557v-3.6M806.48 557v-3.6M975.2 557v-3.6M131.6 557h3.6M131.6 455.98h3.6M131.6 354.96h3.6M131.6 253.95h3.6M131.6 152.93h3.6M131.6 51.91h3.6" stroke="#1c1c1c" stroke-width="1.0" fill="none"/>
<path d="M182.39 557v-1.9M212.1 557v-1.9M233.18 557v-1.9M249.53 557v-1.9M262.89 557v-1.9M274.18 557v-1.9M283.97 557v-1.9M292.6 557v-1.9M351.11 557v-1.9M380.82 557v-1.9M401.9 557v-1.9M418.25 557v-1.9M431.61 557v-1.9M442.9 557v-1.9M452.69 557v-1.9M461.32 557v-1.9M519.83 557v-1.9M549.54 557v-1.9M570.62 557v-1.9M586.97 557v-1.9M600.33 557v-1.9M611.62 557v-1.9M621.41 557v-1.9M630.04 557v-1.9M688.55 557v-1.9M718.26 557v-1.9M739.34 557v-1.9M755.69 557v-1.9M769.05 557v-1.9M780.34 557v-1.9M790.13 557v-1.9M798.76 557v-1.9M857.27 557v-1.9M886.98 557v-1.9M908.06 557v-1.9M924.41 557v-1.9M937.77 557v-1.9M949.06 557v-1.9M958.85 557v-1.9M967.48 557v-1.9" stroke="#1c1c1c" stroke-width="0.85" fill="none"/>
<rect x="131.6" y="1.4" width="843.6" height="555.6" fill="none" stroke="#1c1c1c" stroke-width="1.15"/>
<text ><tspan x="107.21" y="587.8" font-size="29.33">10</tspan><tspan x="144.53" y="576.8" font-size="20.53">1</tspan></text>
<text ><tspan x="275.93" y="587.8" font-size="29.33">10</tspan><tspan x="313.25" y="576.8" font-size="20.53">2</tspan></text>
<text ><tspan x="444.65" y="587.8" font-size="29.33">10</tspan><tspan x="481.97" y="576.8" font-size="20.53">3</tspan></text>
<text ><tspan x="613.37" y="587.8" font-size="29.33">10</tspan><tspan x="650.69" y="576.8" font-size="20.53">4</tspan></text>
<text ><tspan x="782.09" y="587.8" font-size="29.33">10</tspan><tspan x="819.41" y="576.8" font-size="20.53">5</tspan></text>
<text ><tspan x="950.81" y="587.8" font-size="29.33">10</tspan><tspan x="988.13" y="576.8" font-size="20.53">6</tspan></text>
<text ><tspan x="44.35" y="568.6" font-size="29.33">10</tspan><tspan x="81.67" y="557.3" font-size="20.53">−22</tspan></text>
<text ><tspan x="44.35" y="467.58" font-size="29.33">10</tspan><tspan x="81.67" y="456.28" font-size="20.53">−18</tspan></text>
<text ><tspan x="44.35" y="366.56" font-size="29.33">10</tspan><tspan x="81.67" y="355.26" font-size="20.53">−14</tspan></text>
<text ><tspan x="44.35" y="265.55" font-size="29.33">10</tspan><tspan x="81.67" y="254.25" font-size="20.53">−10</tspan></text>
<text ><tspan x="57.41" y="164.53" font-size="29.33">10</tspan><tspan x="94.73" y="153.23" font-size="20.53">−6</tspan></text>
<text ><tspan x="57.41" y="63.51" font-size="29.33">10</tspan><tspan x="94.73" y="52.21" font-size="20.53">−2</tspan></text>
<text ><tspan x="498.55" y="626.4" font-size="32" font-style="italic">λ</tspan><tspan x="517.19" y="632" font-size="22.1">obs</tspan><tspan x="555.95" y="626.4" font-size="32" letter-spacing="-0.15"> (Å)</tspan></text>
<g transform="translate(29.3 279.2) rotate(-90)"><text ><tspan x="-176.41" y="0" font-size="32" font-style="italic">λ</tspan><tspan x="-157.58" y="5.5" font-size="22.1">obs</tspan><tspan x="-117.81" y="0" font-size="32" font-style="italic">F</tspan><tspan x="-100.11" y="4.9" font-size="22.4" font-style="italic">λ</tspan><tspan x="-87.55" y="9" font-size="15.68">obs</tspan><tspan x="-59.33" y="0" font-size="32"> (erg cm</tspan><tspan x="73.47" y="-11.4" font-size="22.4">−2</tspan><tspan x="106.49" y="0" font-size="32"> s</tspan><tspan x="133.33" y="-11.4" font-size="22.4">−1</tspan><tspan x="166.35" y="0" font-size="32">)</tspan></text></g>
<polygon points="157.2,27.2 188.8,27.2 188.8,48 157.2,48" fill="#d9effc"/>
<text x="203.5" y="45.7" font-size="18.67" letter-spacing="0.08">SWIFT/UVOT</text>
<rect x="157.7" y="69.4" width="30.6" height="19.8" fill="#ffe5cf" stroke="#ffd4b0" stroke-width="1"/>
<text x="203.5" y="87.05" font-size="18.67" letter-spacing="0.08">LSST</text>
<clipPath id="l21"><polygon points="157.2,110.6 188.8,110.6 188.8,131.4 157.2,131.4"/></clipPath>
<path clip-path="url(#l21)" d="M156.2 117.8L189.8 84.2M156.2 130.3L189.8 96.7M156.2 142.8L189.8 109.2M156.2 155.3L189.8 121.7" stroke="#87cefa" stroke-width="1.12" fill="none"/>
<text x="203.5" y="128.4" font-size="18.67" letter-spacing="0.08">ULTRASAT</text>
<clipPath id="l31"><polygon points="157.2,152.3 188.8,152.3 188.8,173.1 157.2,173.1"/></clipPath>
<path clip-path="url(#l31)" d="M156.2 155.3L189.8 121.7M156.2 167.8L189.8 134.2M156.2 180.3L189.8 146.7M156.2 192.8L189.8 159.2M156.2 205.3L189.8 171.7" stroke="#ff7f0e" stroke-width="1.12" fill="none"/>
<text x="203.5" y="169.75" font-size="18.67" letter-spacing="0.08">WFST</text>
<clipPath id="l41"><polygon points="157.2,194 188.8,194 188.8,214.8 157.2,214.8"/></clipPath>
<path clip-path="url(#l41)" d="M156.2 207.2L189.8 240.8M156.2 194.7L189.8 228.3M156.2 182.2L189.8 215.8M156.2 169.7L189.8 203.3" stroke="#87cefa" stroke-width="1.12" fill="none"/>
<text x="203.5" y="211.1" font-size="18.67" letter-spacing="0.08">UVEX</text>
<path d="M668 28.9h42.7" stroke="#000" stroke-width="3.1" stroke-dasharray="3.1 5.12" fill="none"/>
<path d="M668 64.7h42.1" stroke="#f00" stroke-width="5.2" stroke-linecap="square" fill="none"/>
<path d="M668 101.2h42.1" stroke="#008000" stroke-width="5.2" stroke-linecap="square" fill="none"/>
<text ><tspan x="726.7" y="37.2" font-size="21.33">M</tspan><tspan x="744.6" y="39.8" font-size="14.93">BH,</tspan><tspan x="773.31" y="39.8" font-size="14.93">8,</tspan><tspan x="790.04" y="39.8" font-size="14.93">obs</tspan><tspan x="815.84" y="37.2" font-size="21.33"> SED</tspan></text>
<text ><tspan x="726.7" y="72" font-size="21.33">10</tspan><tspan x="753.04" y="63.3" font-size="15.38">3</tspan><tspan x="762.83" y="72" font-size="21.33">R</tspan><tspan x="777.45" y="74.5" font-size="14.93">g</tspan><tspan x="786.92" y="72" font-size="21.33"> SN </tspan><tspan x="829.98" y="72" font-size="21.33" letter-spacing="-0.3">Spectra,</tspan><tspan x="920.05" y="72" font-size="21.33">obs</tspan></text>
<text ><tspan x="726.7" y="108.2" font-size="21.33">10</tspan><tspan x="753.04" y="99.5" font-size="15.38">4</tspan><tspan x="762.83" y="108.2" font-size="21.33">R</tspan><tspan x="777.45" y="110.7" font-size="14.93">g</tspan><tspan x="786.92" y="108.2" font-size="21.33"> SN </tspan><tspan x="829.98" y="108.2" font-size="21.33" letter-spacing="-0.3">Spectra,</tspan><tspan x="920.05" y="108.2" font-size="21.33">obs</tspan></text>
</g>
<g>
<polygon points="504,769.5 554.1,769.5 554.1,1087.1 504,1094.1" fill="#d9effc"/>
<polygon points="554.1,769.5 641,769.5 641,1130.8 554.1,1143.7" fill="#ffe5cf"/>
<clipPath id="cu2"><polygon points="530.4,769.5 547,769.5 547,1111.1 530.4,1113.8"/></clipPath>
<path clip-path="url(#cu2)" d="M529.4 775.2L548 756.6M529.4 787.7L548 769.1M529.4 800.2L548 781.6M529.4 812.7L548 794.1M529.4 825.2L548 806.6M529.4 837.7L548 819.1M529.4 850.2L548 831.6M529.4 862.7L548 844.1M529.4 875.2L548 856.6M529.4 887.7L548 869.1M529.4 900.2L548 881.6M529.4 912.7L548 894.1M529.4 925.2L548 906.6M529.4 937.7L548 919.1M529.4 950.2L548 931.6M529.4 962.7L548 944.1M529.4 975.2L548 956.6M529.4 987.7L548 969.1M529.4 1000.2L548 981.6M529.4 1012.7L548 994.1M529.4 1025.2L548 1006.6M529.4 1037.7L548 1019.1M529.4 1050.2L548 1031.6M529.4 1062.7L548 1044.1M529.4 1075.2L548 1056.6M529.4 1087.7L548 1069.1M529.4 1100.2L548 1081.6M529.4 1112.7L548 1094.1M529.4 1125.2L548 1106.6" stroke="#87cefa" stroke-width="1.12" fill="none"/>
<clipPath id="cw2"><polygon points="554.1,769.5 639.9,769.5 639.9,1115.1 554.1,1128.4"/></clipPath>
<path clip-path="url(#cw2)" d="M553.1 776.5L640.9 688.7M553.1 789L640.9 701.2M553.1 801.5L640.9 713.7M553.1 814L640.9 726.2M553.1 826.5L640.9 738.7M553.1 839L640.9 751.2M553.1 851.5L640.9 763.7M553.1 864L640.9 776.2M553.1 876.5L640.9 788.7M553.1 889L640.9 801.2M553.1 901.5L640.9 813.7M553.1 914L640.9 826.2M553.1 926.5L640.9 838.7M553.1 939L640.9 851.2M553.1 951.5L640.9 863.7M553.1 964L640.9 876.2M553.1 976.5L640.9 888.7M553.1 989L640.9 901.2M553.1 1001.5L640.9 913.7M553.1 1014L640.9 926.2M553.1 1026.5L640.9 938.7M553.1 1039L640.9 951.2M553.1 1051.5L640.9 963.7M553.1 1064L640.9 976.2M553.1 1076.5L640.9 988.7M553.1 1089L640.9 1001.2M553.1 1101.5L640.9 1013.7M553.1 1114L640.9 1026.2M553.1 1126.5L640.9 1038.7M553.1 1139L640.9 1051.2M553.1 1151.5L640.9 1063.7M553.1 1164L640.9 1076.2M553.1 1176.5L640.9 1088.7M553.1 1189L640.9 1101.2M553.1 1201.5L640.9 1113.7M553.1 1214L640.9 1126.2" stroke="#ff7f0e" stroke-width="1.12" fill="none"/>
<clipPath id="cv2"><polygon points="493,769.5 516,769.5 516,1120.7 493,1124.5"/></clipPath>
<path clip-path="url(#cv2)" d="M492 1111.1L517 1136.1M492 1098.6L517 1123.6M492 1086.1L517 1111.1M492 1073.6L517 1098.6M492 1061.1L517 1086.1M492 1048.6L517 1073.6M492 1036.1L517 1061.1M492 1023.6L517 1048.6M492 1011.1L517 1036.1M492 998.6L517 1023.6M492 986.1L517 1011.1M492 973.6L517 998.6M492 961.1L517 986.1M492 948.6L517 973.6M492 936.1L517 961.1M492 923.6L517 948.6M492 911.1L517 936.1M492 898.6L517 923.6M492 886.1L517 911.1M492 873.6L517 898.6M492 861.1L517 886.1M492 848.6L517 873.6M492 836.1L517 861.1M492 823.6L517 848.6M492 811.1L517 836.1M492 798.6L517 823.6M492 786.1L517 811.1M492 773.6L517 798.6M492 761.1L517 786.1M492 748.6L517 773.6" stroke="#87cefa" stroke-width="1.12" fill="none"/>
<clipPath id="cx2"><polygon points="521,769.5 542,769.5 542,1123.5 521,1127.5"/></clipPath>
<path clip-path="url(#cx2)" d="M520 1114.1L543 1137.1M520 1101.6L543 1124.6M520 1089.1L543 1112.1M520 1076.6L543 1099.6M520 1064.1L543 1087.1M520 1051.6L543 1074.6M520 1039.1L543 1062.1M520 1026.6L543 1049.6M520 1014.1L543 1037.1M520 1001.6L543 1024.6M520 989.1L543 1012.1M520 976.6L543 999.6M520 964.1L543 987.1M520 951.6L543 974.6M520 939.1L543 962.1M520 926.6L543 949.6M520 914.1L543 937.1M520 901.6L543 924.6M520 889.1L543 912.1M520 876.6L543 899.6M520 864.1L543 887.1M520 851.6L543 874.6M520 839.1L543 862.1M520 826.6L543 849.6M520 814.1L543 837.1M520 801.6L543 824.6M520 789.1L543 812.1M520 776.6L543 799.6M520 764.1L543 787.1M520 751.6L543 774.6" stroke="#87cefa" stroke-width="1.12" fill="none"/>
<clipPath id="ax2"><rect x="131.6" y="769.5" width="843.6" height="555.6"/></clipPath>
<g clip-path="url(#ax2)" fill="none">
<path d="M289.7 1456.5 L290.04 1454.79 L290.38 1453.08 L290.73 1451.37 L291.07 1449.66 L291.41 1447.95 L291.75 1446.24 L292.09 1444.53 L292.44 1442.82 L292.78 1441.11 L293.12 1439.4 L293.46 1437.69 L293.8 1435.98 L294.15 1434.27 L294.49 1432.56 L294.83 1430.85 L295.17 1429.14 L295.51 1427.43 L295.86 1425.72 L296.2 1424.01 L296.54 1422.3 L296.88 1420.59 L297.22 1418.88 L297.57 1417.17 L297.91 1415.46 L298.25 1413.75 L298.59 1412.04 L298.93 1410.33 L299.28 1408.62 L299.62 1406.91 L299.96 1405.2 L300.3 1403.49 L300.64 1401.78 L300.98 1400.07 L301.32 1398.36 L301.66 1396.65 L302 1394.94 L302.36 1393.23 L302.71 1391.52 L303.07 1389.82 L303.44 1388.11 L303.81 1386.41 L304.18 1384.7 L304.55 1383 L304.93 1381.3 L305.3 1379.6 L305.69 1377.89 L306.07 1376.19 L306.45 1374.49 L306.84 1372.79 L307.23 1371.09 L307.62 1369.39 L308.01 1367.69 L308.4 1365.99 L308.8 1364.29 L309.2 1362.6 L309.6 1360.9 L310 1359.2 L310.41 1357.51 L310.82 1355.81 L311.23 1354.12 L311.64 1352.42 L312.06 1350.73 L312.49 1349.04 L312.91 1347.35 L313.35 1345.66 L313.78 1343.97 L314.23 1342.28 L314.67 1340.6 L315.12 1338.91 L315.58 1337.23 L316.04 1335.55 L316.5 1333.87 L316.96 1332.18 L317.43 1330.5 L317.89 1328.82 L318.36 1327.14 L318.83 1325.46 L319.3 1323.78 L319.77 1322.1 L320.24 1320.42 L320.7 1318.74 L321.18 1317.07 L321.65 1315.39 L322.12 1313.71 L322.6 1312.03 L323.08 1310.35 L323.56 1308.68 L324.04 1307 L324.53 1305.33 L325.02 1303.65 L325.51 1301.98 L326.01 1300.31 L326.51 1298.64 L327.01 1296.97 L327.52 1295.3 L328.04 1293.64 L328.55 1291.97 L329.07 1290.31 L329.6 1288.64 L330.12 1286.98 L330.65 1285.32 L331.19 1283.66 L331.72 1282 L332.26 1280.34 L332.8 1278.68 L333.35 1277.02 L333.89 1275.37 L334.44 1273.71 L335 1272.06 L335.55 1270.41 L336.11 1268.75 L336.67 1267.1 L337.23 1265.45 L337.79 1263.8 L338.36 1262.15 L338.94 1260.5 L339.52 1258.86 L340.11 1257.22 L340.7 1255.58 L341.3 1253.94 L341.91 1252.31 L342.52 1250.68 L343.14 1249.05 L343.77 1247.42 L344.4 1245.79 L345.03 1244.16 L345.67 1242.54 L346.32 1240.92 L346.98 1239.3 L347.64 1237.68 L348.32 1236.07 L349 1234.47 L349.69 1232.87 L350.39 1231.28 L351.1 1229.69 L351.83 1228.11 L352.57 1226.53 L353.33 1224.97 L354.1 1223.41 L354.89 1221.85 L355.69 1220.3 L356.5 1218.76 L357.32 1217.21 L358.14 1215.67 L358.97 1214.14 L359.81 1212.6 L360.64 1211.07 L361.47 1209.53 L362.31 1208 L363.13 1206.47 L363.96 1204.93 L364.78 1203.39 L365.6 1201.85 L366.43 1200.31 L367.27 1198.78 L368.12 1197.25 L368.98 1195.74 L369.85 1194.23 L370.75 1192.74 L371.67 1191.27 L372.61 1189.8 L373.56 1188.34 L374.53 1186.89 L375.52 1185.45 L376.52 1184.01 L377.53 1182.59 L378.55 1181.17 L379.57 1179.76 L380.61 1178.36 L381.64 1176.96 L382.69 1175.56 L383.74 1174.16 L384.8 1172.77 L385.88 1171.39 L386.97 1170.03 L388.08 1168.68 L389.21 1167.36 L390.36 1166.06 L391.53 1164.78 L392.73 1163.52 L393.95 1162.27 L395.19 1161.05 L396.45 1159.83 L397.72 1158.63 L399 1157.44 L400.29 1156.26 L401.58 1155.09 L402.88 1153.92 L404.18 1152.76 L405.48 1151.6 L406.8 1150.46 L408.13 1149.32 L409.46 1148.19 L410.81 1147.08 L412.17 1145.99 L413.55 1144.92 L414.93 1143.87 L416.34 1142.84 L417.75 1141.81 L419.17 1140.79 L420.61 1139.78 L422.06 1138.8 L423.52 1137.84 L425 1136.91 L426.49 1136.02 L428 1135.17 L429.53 1134.36 L431.07 1133.56 L432.64 1132.78 L434.22 1132.02 L435.81 1131.28 L437.42 1130.57 L439.04 1129.9 L440.66 1129.25 L442.3 1128.65 L443.94 1128.08 L445.59 1127.56 L447.25 1127.07 L448.93 1126.61 L450.61 1126.17 L452.31 1125.75 L454.02 1125.35 L455.72 1124.96 L457.43 1124.57 L459.14 1124.2 L460.84 1123.82 L462.55 1123.45 L464.25 1123.09 L465.96 1122.74 L467.68 1122.43 L469.4 1122.16 L471.13 1121.92 L472.86 1121.7 L474.59 1121.49 L476.33 1121.32 L478.06 1121.16 L479.8 1121.02 L481.54 1120.89 L483.28 1120.77 L485.02 1120.67 L486.76 1120.57 L488.5 1120.46 L490.25 1120.38 L491.99 1120.32 L493.73 1120.3 L495.47 1120.3 L497.22 1120.3 L498.96 1120.3 L500.71 1120.3 L502.45 1120.3 L504.19 1120.33 L505.94 1120.38 L507.68 1120.44 L509.42 1120.5 L511.17 1120.56 L512.91 1120.64 L514.65 1120.73 L516.39 1120.82 L518.13 1120.91 L519.88 1120.99 L521.62 1121.08 L523.36 1121.16 L525.1 1121.25 L526.84 1121.36 L528.58 1121.47 L530.32 1121.6 L532.06 1121.73 L533.8 1121.88 L535.53 1122.02 L537.27 1122.19 L539.01 1122.36 L540.74 1122.53 L542.48 1122.7 L544.21 1122.86 L545.95 1123.02 L547.69 1123.18 L549.42 1123.35 L551.16 1123.53 L552.89 1123.73 L554.62 1123.94 L556.35 1124.16 L558.08 1124.38 L559.81 1124.59 L561.54 1124.79 L563.28 1125 L565.01 1125.2 L566.74 1125.41 L568.47 1125.62 L570.2 1125.84 L571.93 1126.05 L573.66 1126.27 L575.39 1126.49 L577.12 1126.7 L578.85 1126.9 L580.59 1127.11 L582.32 1127.31 L584.05 1127.52 L585.78 1127.75 L587.51 1127.99 L589.24 1128.21 L590.97 1128.41 L592.71 1128.54 L594.45 1128.66 L596.2 1128.77 L597.94 1128.85 L599.68 1128.89 L601.42 1128.87 L603.18 1128.65 L604.93 1128.27 L606.63 1127.79 L608.21 1127.26 L609.69 1126.51 L611.09 1125.46 L612.44 1124.26 L613.75 1123 L615.02 1121.81 L616.25 1120.57 L617.43 1119.29 L618.59 1117.98 L619.76 1116.67 L620.93 1115.39 L622.1 1114.09 L623.27 1112.8 L624.44 1111.5 L625.61 1110.21 L626.79 1108.93 L627.98 1107.65 L629.17 1106.38 L630.36 1105.1 L631.56 1103.84 L632.76 1102.57 L633.97 1101.32 L635.18 1100.06 L636.4 1098.81 L637.62 1097.57 L638.84 1096.33 L640.07 1095.09 L641.31 1093.86 L642.55 1092.64 L643.81 1091.42 L645.06 1090.21 L646.32 1089 L647.6 1087.82 L648.91 1086.66 L650.24 1085.54 L651.6 1084.44 L652.97 1083.37 L654.37 1082.32 L655.78 1081.3 L657.21 1080.31 L658.66 1079.33 L660.12 1078.38 L661.6 1077.45 L663.09 1076.54 L664.58 1075.64 L666.09 1074.75 L667.61 1073.9 L669.14 1073.08 L670.7 1072.31 L672.28 1071.56 L673.87 1070.84 L675.48 1070.16 L677.09 1069.5 L678.72 1068.87 L680.35 1068.25 L682 1067.66 L683.66 1067.12 L685.33 1066.64 L687.01 1066.19 L688.71 1065.77 L690.41 1065.39 L692.13 1065.06 L693.85 1064.79 L695.57 1064.53 L697.3 1064.31 L699.04 1064.11 L700.78 1063.95 L702.51 1063.83 L704.25 1063.71 L706 1063.61 L707.74 1063.54 L709.48 1063.5 L711.23 1063.51 L712.97 1063.54 L714.71 1063.58 L716.46 1063.64 L718.2 1063.7 L719.94 1063.79 L721.68 1063.9 L723.42 1064.03 L725.16 1064.18 L726.89 1064.34 L728.63 1064.52 L730.36 1064.74 L732.09 1064.97 L733.82 1065.21 L735.54 1065.44 L737.27 1065.69 L738.99 1065.95 L740.72 1066.22 L742.44 1066.49 L744.16 1066.77 L745.88 1067.07 L747.6 1067.37 L749.31 1067.68 L751.03 1068 L752.74 1068.31 L754.46 1068.63 L756.17 1068.96 L757.88 1069.29 L759.59 1069.64 L761.29 1070.01 L763 1070.39 L764.7 1070.78 L766.39 1071.18 L768.09 1071.58 L769.79 1072 L771.48 1072.42 L773.17 1072.85 L774.86 1073.29 L776.54 1073.73 L778.22 1074.19 L779.91 1074.65 L781.58 1075.12 L783.26 1075.6 L784.94 1076.09 L786.61 1076.58 L788.28 1077.08 L789.95 1077.6 L791.61 1078.13 L793.26 1078.68 L794.91 1079.25 L796.56 1079.82 L798.2 1080.4 L799.85 1080.97 L801.5 1081.54 L803.15 1082.11 L804.79 1082.69 L806.43 1083.28 L808.07 1083.87 L809.71 1084.47 L811.35 1085.07 L812.98 1085.68 L814.61 1086.29 L816.24 1086.92 L817.87 1087.55 L819.5 1088.18 L821.12 1088.8 L822.75 1089.42 L824.38 1090.04 L826.02 1090.65 L827.65 1091.26 L829.29 1091.87 L830.92 1092.48 L832.55 1093.1 L834.18 1093.71 L835.81 1094.32 L837.45 1094.94 L839.08 1095.55 L840.71 1096.16 L842.35 1096.77 L843.98 1097.38 L845.61 1098 L847.25 1098.61 L848.88 1099.22 L850.51 1099.83 L852.15 1100.45 L853.78 1101.06 L855.41 1101.68 L857.04 1102.3 L858.67 1102.92 L860.3 1103.54 L861.93 1104.16 L863.56 1104.79 L865.18 1105.41 L866.81 1106.04 L868.44 1106.67 L870.06 1107.31 L871.68 1107.94 L873.3 1108.58 L874.93 1109.22 L876.55 1109.87 L878.16 1110.51 L879.78 1111.16 L881.4 1111.81 L883.02 1112.47 L884.63 1113.12 L886.25 1113.78 L887.86 1114.44 L889.48 1115.1 L891.09 1115.76 L892.7 1116.42 L894.31 1117.09 L895.93 1117.75 L897.54 1118.42 L899.15 1119.09 L900.76 1119.76 L902.37 1120.44 L903.97 1121.11 L905.58 1121.79 L907.19 1122.46 L908.8 1123.14 L910.4 1123.82 L912.01 1124.5 L913.61 1125.18 L915.22 1125.87 L916.82 1126.55 L918.43 1127.24 L920.03 1127.92 L921.63 1128.61 L923.24 1129.3 L924.84 1129.99 L926.44 1130.68 L928.04 1131.37 L929.64 1132.06 L931.24 1132.75 L932.84 1133.44 L934.44 1134.14 L936.04 1134.83 L937.64 1135.53 L939.24 1136.22 L940.84 1136.92 L942.43 1137.62 L944.03 1138.33 L945.62 1139.03 L947.22 1139.74 L948.81 1140.45 L950.4 1141.16 L951.99 1141.88 L953.58 1142.59 L955.17 1143.31 L956.76 1144.03 L958.35 1144.75 L959.94 1145.47 L961.53 1146.19 L963.11 1146.91 L964.7 1147.63 L966.29 1148.35 L967.88 1149.08 L969.46 1149.8 L971.05 1150.52 L972.64 1151.24 L974.23 1151.97 L975.81 1152.69 L977.4 1153.41 L978.99 1154.13 L980.58 1154.85 L982.17 1155.56 L983.76 1156.28 L985.35 1156.99 L986.94 1157.71 L988.54 1158.42 L990.13 1159.12 L991.72 1159.83 L993.32 1160.54 L994.91 1161.25 L996.5 1161.95 L998.1 1162.66 L999.69 1163.36 L1001.29 1164.07 L1002.89 1164.77 L1004.48 1165.48 L1006.08 1166.18 L1007.67 1166.88 L1009.27 1167.58 L1010.87 1168.28 L1012.46 1168.99 L1014.06 1169.69 L1015.66 1170.39 L1017.25 1171.09 L1018.85 1171.79 L1020.45 1172.49 L1022.04 1173.19 L1023.64 1173.89 L1025.24 1174.6 L1026.83 1175.3 L1028.43 1176 L1030.02 1176.7 L1031.62 1177.4 L1033.22 1178.11 L1034.81 1178.81 L1036.41 1179.51 L1038 1180.22 L1039.6 1180.92 L1041.19 1181.63 L1042.79 1182.33 L1044.38 1183.04 L1045.98 1183.75 L1047.57 1184.46 L1049.16 1185.16 L1050.76 1185.87 L1052.35 1186.58 L1053.94 1187.29 L1055.54 1188 L1057.13 1188.71 L1058.72 1189.42 L1060.31 1190.13 L1061.91 1190.84 L1063.5 1191.55" stroke="#000" stroke-width="3.1" stroke-dasharray="3.1 5.12" stroke-dashoffset="-1.8"/>
<path d="M464.73 1457.67 L465.95 1448.69 L467.17 1439.88 L468.39 1431.22 L469.61 1422.71 L470.83 1414.36 L472.05 1406.16 L473.27 1398.1 L474.48 1390.19 L475.7 1382.43 L476.92 1374.8 L478.14 1367.31 L479.36 1359.96 L480.58 1352.74 L481.8 1345.65 L483.02 1338.69 L484.24 1331.85 L485.46 1325.14 L486.67 1318.56 L487.89 1312.09 L489.11 1305.75 L490.33 1299.52 L491.55 1293.4 L492.77 1287.4 L493.99 1281.51 L495.21 1275.73 L496.43 1270.05 L497.64 1264.49 L498.86 1259.02 L500.08 1253.66 L501.3 1248.4 L502.52 1243.23 L503.74 1238.17 L504.96 1233.2 L506.18 1228.32 L507.4 1223.54 L508.61 1218.84 L509.83 1214.24 L511.05 1209.73 L512.27 1205.3 L513.49 1200.95 L514.71 1196.69 L515.93 1192.52 L517.15 1188.42 L518.37 1184.4 L519.59 1180.46 L520.8 1176.6 L522.02 1172.82 L523.24 1169.1 L524.46 1165.47 L525.68 1161.9 L526.9 1158.4 L528.12 1154.98 L529.34 1151.62 L530.56 1148.33 L531.77 1145.11 L532.99 1141.95 L534.21 1138.86 L535.43 1135.83 L536.65 1132.86 L537.87 1129.95 L539.09 1127.1 L540.31 1124.31 L541.53 1121.58 L542.75 1118.91 L543.96 1116.29 L545.18 1113.73 L546.4 1111.22 L547.62 1108.77 L548.84 1106.36 L550.06 1104.01 L551.28 1101.71 L552.5 1099.46 L553.72 1097.26 L554.93 1095.11 L556.15 1093.01 L557.37 1090.95 L558.59 1088.94 L559.81 1086.97 L561.03 1085.05 L562.25 1083.17 L563.47 1081.34 L564.69 1079.54 L565.9 1077.79 L567.12 1076.08 L568.34 1074.41 L569.56 1072.78 L570.78 1071.19 L572 1069.64 L573.22 1068.12 L574.44 1066.64 L575.66 1065.2 L576.88 1063.79 L578.09 1062.42 L579.31 1061.09 L580.53 1059.78 L581.75 1058.51 L582.97 1057.28 L584.19 1056.07 L585.41 1054.9 L586.63 1053.76 L587.85 1052.65 L589.06 1051.57 L590.28 1050.53 L591.5 1049.51 L592.72 1048.51 L593.94 1047.55 L595.16 1046.62 L596.38 1045.71 L597.6 1044.83 L598.82 1043.98 L600.04 1043.15 L601.25 1042.35 L602.47 1041.57 L603.69 1040.82 L604.91 1040.09 L606.13 1039.39 L607.35 1038.71 L608.57 1038.05 L609.79 1037.41 L611.01 1036.8 L612.22 1036.21 L613.44 1035.64 L614.66 1035.1 L615.88 1034.57 L617.1 1034.07 L618.32 1033.58 L619.54 1033.12 L620.76 1032.67 L621.98 1032.24 L623.19 1031.84 L624.41 1031.45 L625.63 1031.08 L626.85 1030.72 L628.07 1030.39 L629.29 1030.07 L630.51 1029.77 L631.73 1029.48 L632.95 1029.21 L634.17 1028.96 L635.38 1028.73 L636.6 1028.51 L637.82 1028.3 L639.04 1028.11 L640.26 1027.93 L641.48 1027.77 L642.7 1027.62 L643.92 1027.49 L645.14 1027.37 L646.35 1027.26 L647.57 1027.17 L648.79 1027.09 L650.01 1027.02 L651.23 1026.96 L652.45 1026.92 L653.67 1026.89 L654.89 1026.87 L656.11 1026.86 L657.33 1026.86 L658.54 1026.88 L659.76 1026.9 L660.98 1026.94 L662.2 1026.98 L663.42 1027.04 L664.64 1027.1 L665.86 1027.18 L667.08 1027.26 L668.3 1027.36 L669.51 1027.46 L670.73 1027.57 L671.95 1027.69 L673.17 1027.82 L674.39 1027.96 L675.61 1028.11 L676.83 1028.27 L678.05 1028.43 L679.27 1028.6 L680.48 1028.78 L681.7 1028.96 L682.92 1029.16 L684.14 1029.36 L685.36 1029.56 L686.58 1029.78 L687.8 1030 L689.02 1030.23 L690.24 1030.46 L691.46 1030.7 L692.67 1030.95 L693.89 1031.2 L695.11 1031.46 L696.33 1031.72 L697.55 1031.99 L698.77 1032.27 L699.99 1032.55 L701.21 1032.84 L702.43 1033.13 L703.64 1033.43 L704.86 1033.73 L706.08 1034.03 L707.3 1034.35 L708.52 1034.66 L709.74 1034.98 L710.96 1035.31 L712.18 1035.64 L713.4 1035.97 L714.62 1036.31 L715.83 1036.65 L717.05 1037 L718.27 1037.35 L719.49 1037.7 L720.71 1038.06 L721.93 1038.42 L723.15 1038.79 L724.37 1039.16 L725.59 1039.53 L726.8 1039.9 L728.02 1040.28 L729.24 1040.67 L730.46 1041.05 L731.68 1041.44 L732.9 1041.83 L734.12 1042.23 L735.34 1042.63 L736.56 1043.03 L737.77 1043.43 L738.99 1043.84 L740.21 1044.24 L741.43 1044.66 L742.65 1045.07 L743.87 1045.49 L745.09 1045.91 L746.31 1046.33 L747.53 1046.75 L748.75 1047.18 L749.96 1047.61 L751.18 1048.04 L752.4 1048.47 L753.62 1048.91 L754.84 1049.34 L756.06 1049.78 L757.28 1050.22 L758.5 1050.67 L759.72 1051.11 L760.93 1051.56 L762.15 1052.01 L763.37 1052.46 L764.59 1052.91 L765.81 1053.37 L767.03 1053.82 L768.25 1054.28 L769.47 1054.74 L770.69 1055.2 L771.91 1055.66 L773.12 1056.13 L774.34 1056.59 L775.56 1057.06 L776.78 1057.53 L778 1058 L779.22 1058.47 L780.44 1058.94 L781.66 1059.42 L782.88 1059.89 L784.09 1060.37 L785.31 1060.85 L786.53 1061.33 L787.75 1061.81 L788.97 1062.29 L790.19 1062.78 L791.41 1063.26 L792.63 1063.74 L793.85 1064.23 L795.06 1064.72 L796.28 1065.21 L797.5 1065.7 L798.72 1066.19 L799.94 1066.68 L801.16 1067.17 L802.38 1067.67 L803.6 1068.16 L804.82 1068.66 L806.04 1069.15 L807.25 1069.65 L808.47 1070.15 L809.69 1070.65 L810.91 1071.15 L812.13 1071.65 L813.35 1072.15 L814.57 1072.65 L815.79 1073.16 L817.01 1073.66 L818.22 1074.17 L819.44 1074.67 L820.66 1075.18 L821.88 1075.69 L823.1 1076.19 L824.32 1076.7 L825.54 1077.21 L826.76 1077.72 L827.98 1078.23 L829.2 1078.74 L830.41 1079.25 L831.63 1079.77 L832.85 1080.28 L834.07 1080.79 L835.29 1081.31 L836.51 1081.82 L837.73 1082.34 L838.95 1082.85 L840.17 1083.37 L841.38 1083.89 L842.6 1084.4 L843.82 1084.92 L845.04 1085.44 L846.26 1085.96 L847.48 1086.48 L848.7 1087 L849.92 1087.52 L851.14 1088.04 L852.35 1088.56 L853.57 1089.08 L854.79 1089.61 L856.01 1090.13 L857.23 1090.65 L858.45 1091.17 L859.67 1091.7 L860.89 1092.22 L862.11 1092.75 L863.33 1093.27 L864.54 1093.8 L865.76 1094.32 L866.98 1094.85 L868.2 1095.38 L869.42 1095.9 L870.64 1096.43 L871.86 1096.96 L873.08 1097.49 L874.3 1098.01 L875.51 1098.54 L876.73 1099.07 L877.95 1099.6 L879.17 1100.13 L880.39 1100.66 L881.61 1101.19 L882.83 1101.72 L884.05 1102.25 L885.27 1102.78 L886.49 1103.31 L887.7 1103.85 L888.92 1104.38 L890.14 1104.91 L891.36 1105.44 L892.58 1105.98 L893.8 1106.51 L895.02 1107.04 L896.24 1107.57 L897.46 1108.11 L898.67 1108.64 L899.89 1109.18 L901.11 1109.71 L902.33 1110.24 L903.55 1110.78 L904.77 1111.31 L905.99 1111.85 L907.21 1112.38 L908.43 1112.92 L909.64 1113.46 L910.86 1113.99 L912.08 1114.53 L913.3 1115.06 L914.52 1115.6 L915.74 1116.14 L916.96 1116.67 L918.18 1117.21 L919.4 1117.75 L920.62 1118.29 L921.83 1118.82 L923.05 1119.36 L924.27 1119.9 L925.49 1120.44 L926.71 1120.98 L927.93 1121.51 L929.15 1122.05 L930.37 1122.59 L931.59 1123.13 L932.8 1123.67 L934.02 1124.21 L935.24 1124.75 L936.46 1125.29 L937.68 1125.83 L938.9 1126.37 L940.12 1126.91 L941.34 1127.45 L942.56 1127.99 L943.77 1128.53 L944.99 1129.07 L946.21 1129.61 L947.43 1130.15 L948.65 1130.69 L949.87 1131.23 L951.09 1131.77 L952.31 1132.31 L953.53 1132.85 L954.75 1133.39 L955.96 1133.93 L957.18 1134.47 L958.4 1135.02 L959.62 1135.56 L960.84 1136.1 L962.06 1136.64 L963.28 1137.18 L964.5 1137.72 L965.72 1138.27 L966.93 1138.81 L968.15 1139.35 L969.37 1139.89 L970.59 1140.44 L971.81 1140.98 L973.03 1141.52 L974.25 1142.06 L975.47 1142.61 L976.69 1143.15 L977.91 1143.69 L979.12 1144.23 L980.34 1144.78 L981.56 1145.32 L982.78 1145.86 L984 1146.41 L985.22 1146.95 L986.44 1147.49 L987.66 1148.04 L988.88 1148.58 L990.09 1149.12 L991.31 1149.67 L992.53 1150.21 L993.75 1150.75 L994.97 1151.3 L996.19 1151.84 L997.41 1152.39 L998.63 1152.93 L999.85 1153.47 L1001.06 1154.02 L1002.28 1154.56 L1003.5 1155.11 L1004.72 1155.65 L1005.94 1156.19 L1007.16 1156.74 L1008.38 1157.28 L1009.6 1157.83 L1010.82 1158.37 L1012.04 1158.92 L1013.25 1159.46 L1014.47 1160.01 L1015.69 1160.55 L1016.91 1161.1 L1018.13 1161.64 L1019.35 1162.19 L1020.57 1162.73 L1021.79 1163.28 L1023.01 1163.82 L1024.22 1164.36 L1025.44 1164.91 L1026.66 1165.45 L1027.88 1166 L1029.1 1166.55 L1030.32 1167.09 L1031.54 1167.64 L1032.76 1168.18 L1033.98 1168.73 L1035.2 1169.27 L1036.41 1169.82 L1037.63 1170.36 L1038.85 1170.91 L1040.07 1171.45 L1041.29 1172 L1042.51 1172.54 L1043.73 1173.09 L1044.95 1173.63 L1046.17 1174.18 L1047.38 1174.73 L1048.6 1175.27 L1049.82 1175.82 L1051.04 1176.36 L1052.26 1176.91 L1053.48 1177.45 L1054.7 1178 L1055.92 1178.55 L1057.14 1179.09" stroke="#f00" stroke-width="5.2" stroke-linejoin="round"/>
<path d="M355.03 1458.78 L356.25 1448.7 L357.47 1438.8 L358.69 1429.07 L359.9 1419.52 L361.12 1410.13 L362.34 1400.92 L363.56 1391.87 L364.78 1382.98 L366 1374.24 L367.22 1365.67 L368.44 1357.24 L369.66 1348.97 L370.88 1340.85 L372.09 1332.87 L373.31 1325.04 L374.53 1317.35 L375.75 1309.79 L376.97 1302.38 L378.19 1295.09 L379.41 1287.94 L380.63 1280.92 L381.85 1274.03 L383.06 1267.27 L384.28 1260.62 L385.5 1254.1 L386.72 1247.7 L387.94 1241.42 L389.16 1235.25 L390.38 1229.19 L391.6 1223.25 L392.82 1217.42 L394.04 1211.7 L395.25 1206.08 L396.47 1200.57 L397.69 1195.16 L398.91 1189.85 L400.13 1184.64 L401.35 1179.53 L402.57 1174.51 L403.79 1169.59 L405.01 1164.77 L406.22 1160.03 L407.44 1155.39 L408.66 1150.83 L409.88 1146.36 L411.1 1141.98 L412.32 1137.68 L413.54 1133.46 L414.76 1129.33 L415.98 1125.27 L417.19 1121.3 L418.41 1117.4 L419.63 1113.58 L420.85 1109.83 L422.07 1106.16 L423.29 1102.56 L424.51 1099.03 L425.73 1095.58 L426.95 1092.19 L428.17 1088.87 L429.38 1085.61 L430.6 1082.42 L431.82 1079.3 L433.04 1076.24 L434.26 1073.24 L435.48 1070.31 L436.7 1067.43 L437.92 1064.62 L439.14 1061.86 L440.35 1059.16 L441.57 1056.51 L442.79 1053.93 L444.01 1051.39 L445.23 1048.91 L446.45 1046.49 L447.67 1044.11 L448.89 1041.79 L450.11 1039.52 L451.32 1037.29 L452.54 1035.12 L453.76 1032.99 L454.98 1030.91 L456.2 1028.88 L457.42 1026.89 L458.64 1024.95 L459.86 1023.05 L461.08 1021.2 L462.3 1019.38 L463.51 1017.61 L464.73 1015.88 L465.95 1014.19 L467.17 1012.55 L468.39 1010.94 L469.61 1009.37 L470.83 1007.83 L472.05 1006.34 L473.27 1004.88 L474.48 1003.45 L475.7 1002.07 L476.92 1000.71 L478.14 999.4 L479.36 998.11 L480.58 996.86 L481.8 995.64 L483.02 994.46 L484.24 993.3 L485.46 992.18 L486.67 991.08 L487.89 990.02 L489.11 988.99 L490.33 987.98 L491.55 987.01 L492.77 986.06 L493.99 985.14 L495.21 984.25 L496.43 983.38 L497.64 982.54 L498.86 981.73 L500.08 980.94 L501.3 980.17 L502.52 979.44 L503.74 978.72 L504.96 978.03 L506.18 977.36 L507.4 976.72 L508.61 976.09 L509.83 975.5 L511.05 974.92 L512.27 974.36 L513.49 973.82 L514.71 973.31 L515.93 972.82 L517.15 972.34 L518.37 971.89 L519.59 971.45 L520.8 971.03 L522.02 970.64 L523.24 970.26 L524.46 969.9 L525.68 969.55 L526.9 969.23 L528.12 968.92 L529.34 968.62 L530.56 968.35 L531.77 968.09 L532.99 967.84 L534.21 967.62 L535.43 967.4 L536.65 967.21 L537.87 967.02 L539.09 966.85 L540.31 966.7 L541.53 966.56 L542.75 966.43 L543.96 966.32 L545.18 966.22 L546.4 966.13 L547.62 966.06 L548.84 966 L550.06 965.95 L551.28 965.91 L552.5 965.89 L553.72 965.87 L554.93 965.87 L556.15 965.88 L557.37 965.9 L558.59 965.93 L559.81 965.97 L561.03 966.02 L562.25 966.08 L563.47 966.15 L564.69 966.23 L565.9 966.32 L567.12 966.42 L568.34 966.53 L569.56 966.65 L570.78 966.77 L572 966.91 L573.22 967.05 L574.44 967.2 L575.66 967.36 L576.88 967.53 L578.09 967.7 L579.31 967.89 L580.53 968.08 L581.75 968.27 L582.97 968.48 L584.19 968.69 L585.41 968.91 L586.63 969.13 L587.85 969.36 L589.06 969.6 L590.28 969.84 L591.5 970.09 L592.72 970.35 L593.94 970.61 L595.16 970.88 L596.38 971.15 L597.6 971.43 L598.82 971.71 L600.04 972 L601.25 972.3 L602.47 972.6 L603.69 972.9 L604.91 973.21 L606.13 973.52 L607.35 973.84 L608.57 974.17 L609.79 974.49 L611.01 974.83 L612.22 975.16 L613.44 975.5 L614.66 975.85 L615.88 976.2 L617.1 976.55 L618.32 976.9 L619.54 977.26 L620.76 977.63 L621.98 977.99 L623.19 978.37 L624.41 978.74 L625.63 979.12 L626.85 979.5 L628.07 979.88 L629.29 980.27 L630.51 980.66 L631.73 981.05 L632.95 981.45 L634.17 981.85 L635.38 982.25 L636.6 982.66 L637.82 983.06 L639.04 983.47 L640.26 983.89 L641.48 984.3 L642.7 984.72 L643.92 985.14 L645.14 985.56 L646.35 985.99 L647.57 986.42 L648.79 986.85 L650.01 987.28 L651.23 987.71 L652.45 988.15 L653.67 988.59 L654.89 989.03 L656.11 989.47 L657.33 989.91 L658.54 990.36 L659.76 990.81 L660.98 991.26 L662.2 991.71 L663.42 992.16 L664.64 992.62 L665.86 993.08 L667.08 993.54 L668.3 994 L669.51 994.46 L670.73 994.92 L671.95 995.39 L673.17 995.85 L674.39 996.32 L675.61 996.79 L676.83 997.26 L678.05 997.73 L679.27 998.21 L680.48 998.68 L681.7 999.16 L682.92 999.64 L684.14 1000.12 L685.36 1000.6 L686.58 1001.08 L687.8 1001.56 L689.02 1002.04 L690.24 1002.53 L691.46 1003.01 L692.67 1003.5 L693.89 1003.99 L695.11 1004.48 L696.33 1004.97 L697.55 1005.46 L698.77 1005.95 L699.99 1006.45 L701.21 1006.94 L702.43 1007.44 L703.64 1007.93 L704.86 1008.43 L706.08 1008.93 L707.3 1009.43 L708.52 1009.93 L709.74 1010.43 L710.96 1010.93 L712.18 1011.43 L713.4 1011.93 L714.62 1012.44 L715.83 1012.94 L717.05 1013.45 L718.27 1013.95 L719.49 1014.46 L720.71 1014.97 L721.93 1015.47 L723.15 1015.98 L724.37 1016.49 L725.59 1017 L726.8 1017.51 L728.02 1018.03 L729.24 1018.54 L730.46 1019.05 L731.68 1019.56 L732.9 1020.08 L734.12 1020.59 L735.34 1021.11 L736.56 1021.62 L737.77 1022.14 L738.99 1022.66 L740.21 1023.17 L741.43 1023.69 L742.65 1024.21 L743.87 1024.73 L745.09 1025.25 L746.31 1025.77 L747.53 1026.29 L748.75 1026.81 L749.96 1027.33 L751.18 1027.85 L752.4 1028.37 L753.62 1028.89 L754.84 1029.42 L756.06 1029.94 L757.28 1030.46 L758.5 1030.99 L759.72 1031.51 L760.93 1032.04 L762.15 1032.56 L763.37 1033.09 L764.59 1033.61 L765.81 1034.14 L767.03 1034.67 L768.25 1035.2 L769.47 1035.72 L770.69 1036.25 L771.91 1036.78 L773.12 1037.31 L774.34 1037.84 L775.56 1038.37 L776.78 1038.89 L778 1039.42 L779.22 1039.95 L780.44 1040.48 L781.66 1041.02 L782.88 1041.55 L784.09 1042.08 L785.31 1042.61 L786.53 1043.14 L787.75 1043.67 L788.97 1044.2 L790.19 1044.74 L791.41 1045.27 L792.63 1045.8 L793.85 1046.34 L795.06 1046.87 L796.28 1047.4 L797.5 1047.94 L798.72 1048.47 L799.94 1049.01 L801.16 1049.54 L802.38 1050.08 L803.6 1050.61 L804.82 1051.15 L806.04 1051.68 L807.25 1052.22 L808.47 1052.75 L809.69 1053.29 L810.91 1053.82 L812.13 1054.36 L813.35 1054.9 L814.57 1055.43 L815.79 1055.97 L817.01 1056.51 L818.22 1057.05 L819.44 1057.58 L820.66 1058.12 L821.88 1058.66 L823.1 1059.2 L824.32 1059.74 L825.54 1060.27 L826.76 1060.81 L827.98 1061.35 L829.2 1061.89 L830.41 1062.43 L831.63 1062.97 L832.85 1063.51 L834.07 1064.05 L835.29 1064.58 L836.51 1065.12 L837.73 1065.66 L838.95 1066.2 L840.17 1066.74 L841.38 1067.28 L842.6 1067.82 L843.82 1068.36 L845.04 1068.9 L846.26 1069.45 L847.48 1069.99 L848.7 1070.53 L849.92 1071.07 L851.14 1071.61 L852.35 1072.15 L853.57 1072.69 L854.79 1073.23 L856.01 1073.77 L857.23 1074.32 L858.45 1074.86 L859.67 1075.4 L860.89 1075.94 L862.11 1076.48 L863.33 1077.02 L864.54 1077.57 L865.76 1078.11 L866.98 1078.65 L868.2 1079.19 L869.42 1079.74 L870.64 1080.28 L871.86 1080.82 L873.08 1081.36 L874.3 1081.91 L875.51 1082.45 L876.73 1082.99 L877.95 1083.53 L879.17 1084.08 L880.39 1084.62 L881.61 1085.16 L882.83 1085.71 L884.05 1086.25 L885.27 1086.79 L886.49 1087.34 L887.7 1087.88 L888.92 1088.42 L890.14 1088.97 L891.36 1089.51 L892.58 1090.06 L893.8 1090.6 L895.02 1091.14 L896.24 1091.69 L897.46 1092.23 L898.67 1092.77 L899.89 1093.32 L901.11 1093.86 L902.33 1094.41 L903.55 1094.95 L904.77 1095.5 L905.99 1096.04 L907.21 1096.58 L908.43 1097.13 L909.64 1097.67 L910.86 1098.22 L912.08 1098.76 L913.3 1099.31 L914.52 1099.85 L915.74 1100.4 L916.96 1100.94 L918.18 1101.49 L919.4 1102.03 L920.62 1102.58 L921.83 1103.12 L923.05 1103.67 L924.27 1104.21 L925.49 1104.76 L926.71 1105.3 L927.93 1105.85 L929.15 1106.39 L930.37 1106.94 L931.59 1107.48 L932.8 1108.03 L934.02 1108.57 L935.24 1109.12 L936.46 1109.66 L937.68 1110.21 L938.9 1110.75 L940.12 1111.3 L941.34 1111.85 L942.56 1112.39 L943.77 1112.94 L944.99 1113.48 L946.21 1114.03 L947.43 1114.57 L948.65 1115.12 L949.87 1115.66 L951.09 1116.21 L952.31 1116.76 L953.53 1117.3 L954.75 1117.85 L955.96 1118.39 L957.18 1118.94 L958.4 1119.49 L959.62 1120.03 L960.84 1120.58 L962.06 1121.12 L963.28 1121.67 L964.5 1122.22 L965.72 1122.76 L966.93 1123.31 L968.15 1123.85 L969.37 1124.4 L970.59 1124.95 L971.81 1125.49 L973.03 1126.04 L974.25 1126.58 L975.47 1127.13 L976.69 1127.68 L977.91 1128.22 L979.12 1128.77 L980.34 1129.32 L981.56 1129.86 L982.78 1130.41 L984 1130.95 L985.22 1131.5 L986.44 1132.05 L987.66 1132.59 L988.88 1133.14 L990.09 1133.69 L991.31 1134.23 L992.53 1134.78 L993.75 1135.33 L994.97 1135.87 L996.19 1136.42 L997.41 1136.97 L998.63 1137.51 L999.85 1138.06 L1001.06 1138.6 L1002.28 1139.15 L1003.5 1139.7 L1004.72 1140.24 L1005.94 1140.79 L1007.16 1141.34 L1008.38 1141.88 L1009.6 1142.43 L1010.82 1142.98 L1012.04 1143.52 L1013.25 1144.07 L1014.47 1144.62 L1015.69 1145.16 L1016.91 1145.71 L1018.13 1146.26 L1019.35 1146.8 L1020.57 1147.35 L1021.79 1147.9 L1023.01 1148.44 L1024.22 1148.99 L1025.44 1149.54 L1026.66 1150.09 L1027.88 1150.63 L1029.1 1151.18 L1030.32 1151.73 L1031.54 1152.27 L1032.76 1152.82 L1033.98 1153.37 L1035.2 1153.91 L1036.41 1154.46 L1037.63 1155.01 L1038.85 1155.55 L1040.07 1156.1 L1041.29 1156.65 L1042.51 1157.19 L1043.73 1157.74 L1044.95 1158.29 L1046.17 1158.83 L1047.38 1159.38 L1048.6 1159.93 L1049.82 1160.48 L1051.04 1161.02 L1052.26 1161.57 L1053.48 1162.12 L1054.7 1162.66 L1055.92 1163.21 L1057.14 1163.76" stroke="#008000" stroke-width="5.2" stroke-linejoin="round"/>
</g>
<path d="M131.6 1325.1v-3.6M300.32 1325.1v-3.6M469.04 1325.1v-3.6M637.76 1325.1v-3.6M806.48 1325.1v-3.6M975.2 1325.1v-3.6M131.6 1325.1h3.6M131.6 1224.08h3.6M131.6 1123.06h3.6M131.6 1022.05h3.6M131.6 921.03h3.6M131.6 820.01h3.6" stroke="#1c1c1c" stroke-width="1.0" fill="none"/>
<path d="M182.39 1325.1v-1.9M212.1 1325.1v-1.9M233.18 1325.1v-1.9M249.53 1325.1v-1.9M262.89 1325.1v-1.9M274.18 1325.1v-1.9M283.97 1325.1v-1.9M292.6 1325.1v-1.9M351.11 1325.1v-1.9M380.82 1325.1v-1.9M401.9 1325.1v-1.9M418.25 1325.1v-1.9M431.61 1325.1v-1.9M442.9 1325.1v-1.9M452.69 1325.1v-1.9M461.32 1325.1v-1.9M519.83 1325.1v-1.9M549.54 1325.1v-1.9M570.62 1325.1v-1.9M586.97 1325.1v-1.9M600.33 1325.1v-1.9M611.62 1325.1v-1.9M621.41 1325.1v-1.9M630.04 1325.1v-1.9M688.55 1325.1v-1.9M718.26 1325.1v-1.9M739.34 1325.1v-1.9M755.69 1325.1v-1.9M769.05 1325.1v-1.9M780.34 1325.1v-1.9M790.13 1325.1v-1.9M798.76 1325.1v-1.9M857.27 1325.1v-1.9M886.98 1325.1v-1.9M908.06 1325.1v-1.9M924.41 1325.1v-1.9M937.77 1325.1v-1.9M949.06 1325.1v-1.9M958.85 1325.1v-1.9M967.48 1325.1v-1.9" stroke="#1c1c1c" stroke-width="0.85" fill="none"/>
<rect x="131.6" y="769.5" width="843.6" height="555.6" fill="none" stroke="#1c1c1c" stroke-width="1.15"/>
<text ><tspan x="107.21" y="1355.9" font-size="29.33">10</tspan><tspan x="144.53" y="1344.9" font-size="20.53">1</tspan></text>
<text ><tspan x="275.93" y="1355.9" font-size="29.33">10</tspan><tspan x="313.25" y="1344.9" font-size="20.53">2</tspan></text>
<text ><tspan x="444.65" y="1355.9" font-size="29.33">10</tspan><tspan x="481.97" y="1344.9" font-size="20.53">3</tspan></text>
<text ><tspan x="613.37" y="1355.9" font-size="29.33">10</tspan><tspan x="650.69" y="1344.9" font-size="20.53">4</tspan></text>
<text ><tspan x="782.09" y="1355.9" font-size="29.33">10</tspan><tspan x="819.41" y="1344.9" font-size="20.53">5</tspan></text>
<text ><tspan x="950.81" y="1355.9" font-size="29.33">10</tspan><tspan x="988.13" y="1344.9" font-size="20.53">6</tspan></text>
<text ><tspan x="44.35" y="1336.7" font-size="29.33">10</tspan><tspan x="81.67" y="1325.4" font-size="20.53">−22</tspan></text>
<text ><tspan x="44.35" y="1235.68" font-size="29.33">10</tspan><tspan x="81.67" y="1224.38" font-size="20.53">−18</tspan></text>
<text ><tspan x="44.35" y="1134.66" font-size="29.33">10</tspan><tspan x="81.67" y="1123.36" font-size="20.53">−14</tspan></text>
<text ><tspan x="44.35" y="1033.65" font-size="29.33">10</tspan><tspan x="81.67" y="1022.35" font-size="20.53">−10</tspan></text>
<text ><tspan x="57.41" y="932.63" font-size="29.33">10</tspan><tspan x="94.73" y="921.33" font-size="20.53">−6</tspan></text>
<text ><tspan x="57.41" y="831.61" font-size="29.33">10</tspan><tspan x="94.73" y="820.31" font-size="20.53">−2</tspan></text>
<text ><tspan x="498.55" y="1394.5" font-size="32" font-style="italic">λ</tspan><tspan x="517.19" y="1400.1" font-size="22.1">obs</tspan><tspan x="555.95" y="1394.5" font-size="32" letter-spacing="-0.15"> (Å)</tspan></text>
<g transform="translate(29.3 1047.3) rotate(-90)"><text ><tspan x="-176.41" y="0" font-size="32" font-style="italic">λ</tspan><tspan x="-157.58" y="5.5" font-size="22.1">obs</tspan><tspan x="-117.81" y="0" font-size="32" font-style="italic">F</tspan><tspan x="-100.11" y="4.9" font-size="22.4" font-style="italic">λ</tspan><tspan x="-87.55" y="9" font-size="15.68">obs</tspan><tspan x="-59.33" y="0" font-size="32"> (erg cm</tspan><tspan x="73.47" y="-11.4" font-size="22.4">−2</tspan><tspan x="106.49" y="0" font-size="32"> s</tspan><tspan x="133.33" y="-11.4" font-size="22.4">−1</tspan><tspan x="166.35" y="0" font-size="32">)</tspan></text></g>
<polygon points="157.2,795.3 188.8,795.3 188.8,816.1 157.2,816.1" fill="#d9effc"/>
<text x="203.5" y="813.8" font-size="18.67" letter-spacing="0.08">SWIFT/UVOT</text>
<rect x="157.7" y="837.5" width="30.6" height="19.8" fill="#ffe5cf" stroke="#ffd4b0" stroke-width="1"/>
<text x="203.5" y="855.15" font-size="18.67" letter-spacing="0.08">LSST</text>
<clipPath id="l22"><polygon points="157.2,878.7 188.8,878.7 188.8,899.5 157.2,899.5"/></clipPath>
<path clip-path="url(#l22)" d="M156.2 885.9L189.8 852.3M156.2 898.4L189.8 864.8M156.2 910.9L189.8 877.3M156.2 923.4L189.8 889.8" stroke="#87cefa" stroke-width="1.12" fill="none"/>
<text x="203.5" y="896.5" font-size="18.67" letter-spacing="0.08">ULTRASAT</text>
<clipPath id="l32"><polygon points="157.2,920.4 188.8,920.4 188.8,941.2 157.2,941.2"/></clipPath>
<path clip-path="url(#l32)" d="M156.2 923.4L189.8 889.8M156.2 935.9L189.8 902.3M156.2 948.4L189.8 914.8M156.2 960.9L189.8 927.3M156.2 973.4L189.8 939.8" stroke="#ff7f0e" stroke-width="1.12" fill="none"/>
<text x="203.5" y="937.85" font-size="18.67" letter-spacing="0.08">WFST</text>
<clipPath id="l42"><polygon points="157.2,962.1 188.8,962.1 188.8,982.9 157.2,982.9"/></clipPath>
<path clip-path="url(#l42)" d="M156.2 975.3L189.8 1008.9M156.2 962.8L189.8 996.4M156.2 950.3L189.8 983.9M156.2 937.8L189.8 971.4" stroke="#87cefa" stroke-width="1.12" fill="none"/>
<text x="203.5" y="979.2" font-size="18.67" letter-spacing="0.08">UVEX</text>
<path d="M668 797h42.7" stroke="#000" stroke-width="3.1" stroke-dasharray="3.1 5.12" fill="none"/>
<path d="M668 832.8h42.1" stroke="#f00" stroke-width="5.2" stroke-linecap="square" fill="none"/>
<path d="M668 869.3h42.1" stroke="#008000" stroke-width="5.2" stroke-linecap="square" fill="none"/>
<text ><tspan x="726.7" y="805.3" font-size="21.33">M</tspan><tspan x="744.6" y="807.9" font-size="14.93">BH,</tspan><tspan x="773.31" y="807.9" font-size="14.93">8,</tspan><tspan x="790.04" y="807.9" font-size="14.93">obs</tspan><tspan x="815.84" y="805.3" font-size="21.33"> SED</tspan></text>
<text ><tspan x="726.7" y="840.1" font-size="21.33">10</tspan><tspan x="753.04" y="831.4" font-size="15.38">3</tspan><tspan x="762.83" y="840.1" font-size="21.33">R</tspan><tspan x="777.45" y="842.6" font-size="14.93">g</tspan><tspan x="786.92" y="840.1" font-size="21.33"> SN </tspan><tspan x="829.98" y="840.1" font-size="21.33" letter-spacing="-0.3">Spectra,</tspan><tspan x="920.05" y="840.1" font-size="21.33">obs</tspan></text>
<text ><tspan x="726.7" y="876.3" font-size="21.33">10</tspan><tspan x="753.04" y="867.6" font-size="15.38">4</tspan><tspan x="762.83" y="876.3" font-size="21.33">R</tspan><tspan x="777.45" y="878.8" font-size="14.93">g</tspan><tspan x="786.92" y="876.3" font-size="21.33"> SN </tspan><tspan x="829.98" y="876.3" font-size="21.33" letter-spacing="-0.3">Spectra,</tspan><tspan x="920.05" y="876.3" font-size="21.33">obs</tspan></text>
</g>
<g><text class="cap" transform="translate(477.6 0) scale(1.15 1)"><tspan x="-6.24" y="693.8" font-size="36.2">(</tspan><tspan x="6.05" y="693.6" font-size="33.8">a</tspan><tspan x="20.45" y="693.8" font-size="36.2">)</tspan></text><text class="cap" font-style="italic" transform="translate(535.55 0) scale(1.17 1)"><tspan x="-6.07" y="693.7" font-size="33.3">z</tspan></text><text class="cap" transform="translate(568.1 0) scale(1.36 1)"><tspan x="-10.73" y="697.57" font-size="38">=</tspan></text><text class="cap" transform="translate(600.6 0) scale(1.06 1)"><tspan x="-8.62" y="693.6" font-size="34.5">0</tspan><tspan x="8.42" y="693.6" font-size="34.5">.</tspan><tspan x="17.11" y="693.6" font-size="34.2">1</tspan></text></g>
<g><text class="cap" transform="translate(476.7 0) scale(1.12 1)"><tspan x="-6.24" y="1464.2" font-size="36.2">(</tspan><tspan x="6.75" y="1464" font-size="33.4">b</tspan><tspan x="22.53" y="1464.2" font-size="36.2">)</tspan></text><text class="cap" font-style="italic" transform="translate(536.8 0) scale(1.17 1)"><tspan x="-6.07" y="1464.1" font-size="33.3">z</tspan></text><text class="cap" transform="translate(569.2 0) scale(1.36 1)"><tspan x="-10.73" y="1467.82" font-size="38">=</tspan></text><text class="cap" transform="translate(601.5 0) scale(1.06 1)"><tspan x="-8.36" y="1464" font-size="34.2">2</tspan><tspan x="8.56" y="1464" font-size="34.5">.</tspan><tspan x="17.32" y="1464" font-size="34.5">0</tspan></text></g>
</svg></body></html>
